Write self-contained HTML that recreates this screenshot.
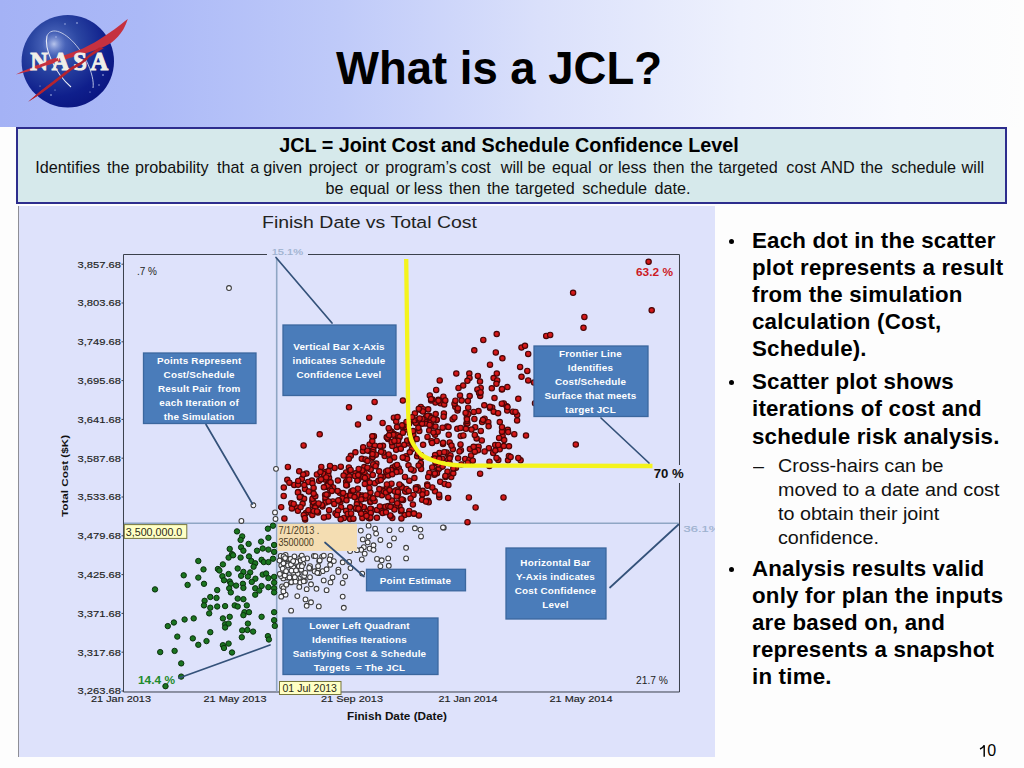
<!DOCTYPE html>
<html>
<head>
<meta charset="utf-8">
<title>What is a JCL?</title>
<style>
html,body{margin:0;padding:0;}
body{width:1024px;height:768px;overflow:hidden;background:#fdfdfd;font-family:"Liberation Sans",sans-serif;position:relative;color:#000;}
.abs{position:absolute;}
#hdr{left:0;top:0;width:1024px;height:127px;background:linear-gradient(90deg,#a4b2f5 0%,#abb9f7 13.7%,#bfcaf9 33.2%,#dae0fb 52.7%,#eef1fd 72.3%,#f9fafe 88%,#fdfdfd 100%);}
#title{left:0;top:41px;width:998px;text-align:center;font-weight:bold;font-size:45.5px;line-height:56px;white-space:nowrap;}
#box{left:16px;top:127.1px;width:987.3px;height:73.1px;border:2.8px solid #2d2d8d;background:#d6e9eb;}
#boxt{left:0;top:133px;width:1018px;text-align:center;font-weight:bold;font-size:19.8px;line-height:24px;white-space:nowrap;}
.bl{font-size:16.2px;line-height:20px;white-space:nowrap;color:#111;}
#chartbg{left:17.6px;top:205.8px;width:696.4px;height:551.7px;background:#dee2fb;border-left:1.3px solid #8e8e96;}
.b1{font-weight:bold;font-size:22.3px;line-height:27px;white-space:nowrap;left:752px;letter-spacing:0.2px;margin-top:0.7px;}
.b2{font-size:17.7px;line-height:24px;white-space:nowrap;left:778px;color:#111;transform:scaleX(1.115);transform-origin:0 0;margin-top:0.6px;}
.dot{left:728.6px;width:5.2px;height:5.2px;border-radius:50%;background:#000;margin-top:12.5px;}
svg text{font-family:"Liberation Sans",sans-serif;}
</style>
</head>
<body>
<div id="hdr" class="abs"></div>
<div id="title" class="abs">What is a JCL?</div>

<!-- NASA logo -->
<svg class="abs" style="left:0;top:0" width="140" height="125" viewBox="0 0 140 125">
  <defs>
    <radialGradient id="ng" cx="0.36" cy="0.32" r="0.75">
      <stop offset="0" stop-color="#5d78c8"/>
      <stop offset="0.35" stop-color="#2b46a2"/>
      <stop offset="0.75" stop-color="#0f1f8c"/>
      <stop offset="1" stop-color="#0a1580"/>
    </radialGradient>
    <radialGradient id="glow" cx="0.5" cy="0.5" r="0.5">
      <stop offset="0" stop-color="#c9d3f3" stop-opacity="0.85"/>
      <stop offset="1" stop-color="#7088d0" stop-opacity="0"/>
    </radialGradient>
  </defs>
  <circle cx="67.8" cy="61.2" r="46.2" fill="url(#ng)"/>
  <circle cx="54" cy="44" r="12" fill="url(#glow)"/>
  <g fill="#b9c6f0">
    <circle cx="65" cy="24" r="0.7"/><circle cx="77" cy="23" r="0.8"/><circle cx="56" cy="37" r="0.7"/>
    <circle cx="103" cy="75" r="0.8"/><circle cx="99" cy="85" r="0.7"/><circle cx="51" cy="95" r="0.8"/>
    <circle cx="40" cy="86" r="0.6"/><circle cx="90" cy="92" r="0.6"/><circle cx="55" cy="90" r="0.6"/>
  </g>
  <path d="M47,36 C52,24 72,34 86,60 C92,72 94,82 93,88" fill="none" stroke="#c9d0ea" stroke-width="0.9"/>
  <path d="M47,36 C44,48 54,72 71,87" fill="none" stroke="#e8ebf7" stroke-width="1.1"/>
  <!-- swoosh -->
  <path d="M15.9,74.5 C22,71.500 27,69.500 32.100,67.300 L49,60.100 L67.300,54.300 L82.900,48.400 C88,46 93,43.500 98.500,40 C104,36.500 109,33 114.200,29.500 C119,26 124,22 127.800,19.100 C126.500,23 125,26.500 123.300,29.500 C120,35 116,39 111.600,42.500 C107,45.500 103,47.500 98.500,49 L82.900,54.300 L67.300,58.800 L49,64.700 L32,70.500 Z" fill="#c5313f"/>
  <path d="M28.200,101.800 L40,91.500 L53,81.500 L71.200,67.200 L81,61.800 L89.400,54.300 L99,47.500 L104,48 L89.400,57.300 L81,64.800 L71.200,70.200 L53,84.500 L40,94.200 Z" fill="#b32430"/>
  <text x="69.300" y="69.800" text-anchor="middle" style="font-family:'Liberation Serif',serif" font-weight="bold" font-size="24.5" fill="#f1efe8" stroke="#f1efe8" stroke-width="1.0" textLength="78" lengthAdjust="spacing">NASA</text>
  <path d="M28.200,101.800 L40,91.500 L53,81.500 L71.200,67.200 L81,61.800 L86,57.500 L88,59 L81,64.800 L71.200,70.200 L53,84.500 L40,94.200 Z" fill="#b32430"/>
  <path d="M40,64.500 L49,61 L58,58 L58,60.800 L49,64.200 L40,67.500 Z" fill="#c5313f"/>
</svg>

<div id="box" class="abs"></div>
<div id="boxt" class="abs">JCL = Joint Cost and Schedule Confidence Level</div>
<div class="abs bl" style="left:35.3px;top:157px">Identifies</div>
<div class="abs bl" style="left:107.1px;top:157px">the</div>
<div class="abs bl" style="left:134.9px;top:157px">probability</div>
<div class="abs bl" style="left:217.0px;top:157px">that</div>
<div class="abs bl" style="left:250.2px;top:157px">a</div>
<div class="abs bl" style="left:263.2px;top:157px">given</div>
<div class="abs bl" style="left:308.7px;top:157px">project</div>
<div class="abs bl" style="left:364.9px;top:157px">or</div>
<div class="abs bl" style="left:385.2px;top:157px">program’s</div>
<div class="abs bl" style="left:461.1px;top:157px">cost</div>
<div class="abs bl" style="left:500.7px;top:157px">will</div>
<div class="abs bl" style="left:527.5px;top:157px">be</div>
<div class="abs bl" style="left:551.9px;top:157px">equal</div>
<div class="abs bl" style="left:598.8px;top:157px">or</div>
<div class="abs bl" style="left:617.9px;top:157px">less</div>
<div class="abs bl" style="left:653.0px;top:157px">then</div>
<div class="abs bl" style="left:690.6px;top:157px">the</div>
<div class="abs bl" style="left:718.4px;top:157px">targeted</div>
<div class="abs bl" style="left:786.3px;top:157px">cost</div>
<div class="abs bl" style="left:820.5px;top:157px">AND</div>
<div class="abs bl" style="left:860.5px;top:157px">the</div>
<div class="abs bl" style="left:891.3px;top:157px">schedule</div>
<div class="abs bl" style="left:961.6px;top:157px">will</div>
<div class="abs bl" style="left:325.4px;top:177.6px">be</div>
<div class="abs bl" style="left:349.8px;top:177.6px">equal</div>
<div class="abs bl" style="left:395.7px;top:177.6px">or</div>
<div class="abs bl" style="left:413.7px;top:177.6px">less</div>
<div class="abs bl" style="left:448.9px;top:177.6px">then</div>
<div class="abs bl" style="left:487.0px;top:177.6px">the</div>
<div class="abs bl" style="left:515.3px;top:177.6px">targeted</div>
<div class="abs bl" style="left:582.2px;top:177.6px">schedule</div>
<div class="abs bl" style="left:654.5px;top:177.6px">date.</div>

<div id="chartbg" class="abs"></div>

<svg class="abs" style="left:0;top:200px" width="715.3" height="568" viewBox="0 200 715.3 568">
  <!-- plot frame -->
  <g stroke="#3a3f4a" stroke-width="1" fill="none">
    <path d="M123.5,254.5 H267 M308,254.5 H679.5 V692 H123.5 V254.5"/>
  </g>
  <path d="M121.5,264.2 H123.5 M121.5,303.0 H123.5 M121.5,341.8 H123.5 M121.5,380.6 H123.5 M121.5,419.4 H123.5 M121.5,458.2 H123.5 M121.5,497.0 H123.5 M121.5,535.8 H123.5 M121.5,574.6 H123.5 M121.5,613.4 H123.5 M121.5,652.2 H123.5 M121.5,691.0 H123.5 " stroke="#3a3f4a" stroke-width="1" fill="none"/>
  <!-- crosshair -->
  <path d="M276.700,258 V691.500 M124,523.200 H678.500" stroke="#8fa6c4" stroke-width="1.6" fill="none"/>
  <text x="262" y="228" font-size="16.5" fill="#222" textLength="215" lengthAdjust="spacingAndGlyphs">Finish Date vs Total Cost</text>
  <g font-size="9.4" fill="#222" stroke="#222" stroke-width="0.15" text-anchor="end">
    <text x="121" y="267.6" textLength="43.5" lengthAdjust="spacingAndGlyphs">3,857.68</text>
    <text x="121" y="306.4" textLength="43.5" lengthAdjust="spacingAndGlyphs">3,803.68</text>
    <text x="121" y="345.2" textLength="43.5" lengthAdjust="spacingAndGlyphs">3,749.68</text>
    <text x="121" y="384.0" textLength="43.5" lengthAdjust="spacingAndGlyphs">3,695.68</text>
    <text x="121" y="422.8" textLength="43.5" lengthAdjust="spacingAndGlyphs">3,641.68</text>
    <text x="121" y="461.6" textLength="43.5" lengthAdjust="spacingAndGlyphs">3,587.68</text>
    <text x="121" y="500.4" textLength="43.5" lengthAdjust="spacingAndGlyphs">3,533.68</text>
    <text x="121" y="539.2" textLength="43.5" lengthAdjust="spacingAndGlyphs">3,479.68</text>
    <text x="121" y="578.0" textLength="43.5" lengthAdjust="spacingAndGlyphs">3,425.68</text>
    <text x="121" y="616.8" textLength="43.5" lengthAdjust="spacingAndGlyphs">3,371.68</text>
    <text x="121" y="655.6" textLength="43.5" lengthAdjust="spacingAndGlyphs">3,317.68</text>
    <text x="121" y="694.4" textLength="43.5" lengthAdjust="spacingAndGlyphs">3,263.68</text>
  </g>
  <g font-size="9.4" fill="#222" stroke="#222" stroke-width="0.15" text-anchor="middle">
    <text x="121" y="702.400" textLength="60" lengthAdjust="spacingAndGlyphs">21 Jan 2013</text>
    <text x="235" y="702.400" textLength="63" lengthAdjust="spacingAndGlyphs">21 May 2013</text>
    <text x="352" y="702.400" textLength="62" lengthAdjust="spacingAndGlyphs">21 Sep 2013</text>
    <text x="468" y="702.400" textLength="59" lengthAdjust="spacingAndGlyphs">21 Jan 2014</text>
    <text x="581" y="702.400" textLength="63" lengthAdjust="spacingAndGlyphs">21 May 2014</text>
  </g>
  <text x="397" y="720" font-size="10.5" font-weight="bold" text-anchor="middle" fill="#111" textLength="100" lengthAdjust="spacingAndGlyphs">Finish Date (Date)</text>
  <text transform="translate(68.3,476) rotate(-90)" font-size="9.8" font-weight="bold" text-anchor="middle" fill="#111" textLength="82" lengthAdjust="spacingAndGlyphs">Total Cost ($K)</text>

<defs><radialGradient id="rg" cx="0.45" cy="0.4" r="0.6"><stop offset="0" stop-color="#e01c1c"/><stop offset="1" stop-color="#b40f12"/></radialGradient></defs>
<circle cx="360.8" cy="530.6" r="2.4" fill="#fafaff" stroke="#3c3c3c" stroke-width="1.05"/>
<circle cx="368.6" cy="525.7" r="2.4" fill="#fafaff" stroke="#3c3c3c" stroke-width="1.05"/>
<circle cx="375.1" cy="528.7" r="2.4" fill="#fafaff" stroke="#3c3c3c" stroke-width="1.05"/>
<circle cx="376.1" cy="533.6" r="2.4" fill="#fafaff" stroke="#3c3c3c" stroke-width="1.05"/>
<circle cx="368.6" cy="536.5" r="2.4" fill="#fafaff" stroke="#3c3c3c" stroke-width="1.05"/>
<circle cx="362.8" cy="539.4" r="2.4" fill="#fafaff" stroke="#3c3c3c" stroke-width="1.05"/>
<circle cx="367.7" cy="542.3" r="2.4" fill="#fafaff" stroke="#3c3c3c" stroke-width="1.05"/>
<circle cx="373.5" cy="545.3" r="2.4" fill="#fafaff" stroke="#3c3c3c" stroke-width="1.05"/>
<circle cx="363.8" cy="547.2" r="2.4" fill="#fafaff" stroke="#3c3c3c" stroke-width="1.05"/>
<circle cx="369.6" cy="548.6" r="2.4" fill="#fafaff" stroke="#3c3c3c" stroke-width="1.05"/>
<circle cx="373.5" cy="549.8" r="2.4" fill="#fafaff" stroke="#3c3c3c" stroke-width="1.05"/>
<circle cx="361.2" cy="549.8" r="2.4" fill="#fafaff" stroke="#3c3c3c" stroke-width="1.05"/>
<circle cx="389.5" cy="530.2" r="2.4" fill="#fafaff" stroke="#3c3c3c" stroke-width="1.05"/>
<circle cx="401.2" cy="529.6" r="2.4" fill="#fafaff" stroke="#3c3c3c" stroke-width="1.05"/>
<circle cx="414.9" cy="528.3" r="2.4" fill="#fafaff" stroke="#3c3c3c" stroke-width="1.05"/>
<circle cx="420.4" cy="529.6" r="2.4" fill="#fafaff" stroke="#3c3c3c" stroke-width="1.05"/>
<circle cx="443.8" cy="527.7" r="2.4" fill="#fafaff" stroke="#3c3c3c" stroke-width="1.05"/>
<circle cx="421.0" cy="536.5" r="2.4" fill="#fafaff" stroke="#3c3c3c" stroke-width="1.05"/>
<circle cx="394.0" cy="538.4" r="2.4" fill="#fafaff" stroke="#3c3c3c" stroke-width="1.05"/>
<circle cx="380.4" cy="540.0" r="2.4" fill="#fafaff" stroke="#3c3c3c" stroke-width="1.05"/>
<circle cx="389.5" cy="545.3" r="2.4" fill="#fafaff" stroke="#3c3c3c" stroke-width="1.05"/>
<circle cx="406.1" cy="547.8" r="2.4" fill="#fafaff" stroke="#3c3c3c" stroke-width="1.05"/>
<circle cx="406.1" cy="558.4" r="2.4" fill="#fafaff" stroke="#3c3c3c" stroke-width="1.05"/>
<circle cx="364.7" cy="553.7" r="2.4" fill="#fafaff" stroke="#3c3c3c" stroke-width="1.05"/>
<circle cx="361.8" cy="559.5" r="2.4" fill="#fafaff" stroke="#3c3c3c" stroke-width="1.05"/>
<circle cx="377.0" cy="558.9" r="2.4" fill="#fafaff" stroke="#3c3c3c" stroke-width="1.05"/>
<circle cx="381.7" cy="560.3" r="2.4" fill="#fafaff" stroke="#3c3c3c" stroke-width="1.05"/>
<circle cx="388.2" cy="558.4" r="2.4" fill="#fafaff" stroke="#3c3c3c" stroke-width="1.05"/>
<circle cx="380.4" cy="566.2" r="2.4" fill="#fafaff" stroke="#3c3c3c" stroke-width="1.05"/>
<circle cx="388.8" cy="565.8" r="2.4" fill="#fafaff" stroke="#3c3c3c" stroke-width="1.05"/>
<circle cx="349.1" cy="561.9" r="2.4" fill="#fafaff" stroke="#3c3c3c" stroke-width="1.05"/>
<circle cx="342.7" cy="562.3" r="2.4" fill="#fafaff" stroke="#3c3c3c" stroke-width="1.05"/>
<circle cx="350.5" cy="568.1" r="2.4" fill="#fafaff" stroke="#3c3c3c" stroke-width="1.05"/>
<circle cx="362.2" cy="573.6" r="2.4" fill="#fafaff" stroke="#3c3c3c" stroke-width="1.05"/>
<circle cx="356.9" cy="550.2" r="2.4" fill="#fafaff" stroke="#3c3c3c" stroke-width="1.05"/>
<circle cx="350.1" cy="551.1" r="2.4" fill="#fafaff" stroke="#3c3c3c" stroke-width="1.05"/>
<circle cx="280.7" cy="556.0" r="2.4" fill="#fafaff" stroke="#3c3c3c" stroke-width="1.05"/>
<circle cx="285.6" cy="555.0" r="2.4" fill="#fafaff" stroke="#3c3c3c" stroke-width="1.05"/>
<circle cx="288.6" cy="559.9" r="2.4" fill="#fafaff" stroke="#3c3c3c" stroke-width="1.05"/>
<circle cx="294.4" cy="556.4" r="2.4" fill="#fafaff" stroke="#3c3c3c" stroke-width="1.05"/>
<circle cx="300.3" cy="557.6" r="2.4" fill="#fafaff" stroke="#3c3c3c" stroke-width="1.05"/>
<circle cx="307.1" cy="558.4" r="2.4" fill="#fafaff" stroke="#3c3c3c" stroke-width="1.05"/>
<circle cx="313.9" cy="556.0" r="2.4" fill="#fafaff" stroke="#3c3c3c" stroke-width="1.05"/>
<circle cx="319.2" cy="560.9" r="2.4" fill="#fafaff" stroke="#3c3c3c" stroke-width="1.05"/>
<circle cx="330.5" cy="556.0" r="2.4" fill="#fafaff" stroke="#3c3c3c" stroke-width="1.05"/>
<circle cx="329.6" cy="559.5" r="2.4" fill="#fafaff" stroke="#3c3c3c" stroke-width="1.05"/>
<circle cx="281.3" cy="565.4" r="2.4" fill="#fafaff" stroke="#3c3c3c" stroke-width="1.05"/>
<circle cx="288.6" cy="564.8" r="2.4" fill="#fafaff" stroke="#3c3c3c" stroke-width="1.05"/>
<circle cx="293.4" cy="567.3" r="2.4" fill="#fafaff" stroke="#3c3c3c" stroke-width="1.05"/>
<circle cx="298.9" cy="566.2" r="2.4" fill="#fafaff" stroke="#3c3c3c" stroke-width="1.05"/>
<circle cx="303.2" cy="563.8" r="2.4" fill="#fafaff" stroke="#3c3c3c" stroke-width="1.05"/>
<circle cx="310.0" cy="566.2" r="2.4" fill="#fafaff" stroke="#3c3c3c" stroke-width="1.05"/>
<circle cx="310.0" cy="568.7" r="2.4" fill="#fafaff" stroke="#3c3c3c" stroke-width="1.05"/>
<circle cx="330.2" cy="564.8" r="2.4" fill="#fafaff" stroke="#3c3c3c" stroke-width="1.05"/>
<circle cx="317.9" cy="570.1" r="2.4" fill="#fafaff" stroke="#3c3c3c" stroke-width="1.05"/>
<circle cx="322.7" cy="571.2" r="2.4" fill="#fafaff" stroke="#3c3c3c" stroke-width="1.05"/>
<circle cx="326.6" cy="569.3" r="2.4" fill="#fafaff" stroke="#3c3c3c" stroke-width="1.05"/>
<circle cx="318.8" cy="573.2" r="2.4" fill="#fafaff" stroke="#3c3c3c" stroke-width="1.05"/>
<circle cx="338.4" cy="569.7" r="2.4" fill="#fafaff" stroke="#3c3c3c" stroke-width="1.05"/>
<circle cx="338.4" cy="572.0" r="2.4" fill="#fafaff" stroke="#3c3c3c" stroke-width="1.05"/>
<circle cx="285.2" cy="572.6" r="2.4" fill="#fafaff" stroke="#3c3c3c" stroke-width="1.05"/>
<circle cx="293.4" cy="573.6" r="2.4" fill="#fafaff" stroke="#3c3c3c" stroke-width="1.05"/>
<circle cx="298.9" cy="572.6" r="2.4" fill="#fafaff" stroke="#3c3c3c" stroke-width="1.05"/>
<circle cx="287.2" cy="577.5" r="2.4" fill="#fafaff" stroke="#3c3c3c" stroke-width="1.05"/>
<circle cx="293.0" cy="577.1" r="2.4" fill="#fafaff" stroke="#3c3c3c" stroke-width="1.05"/>
<circle cx="298.9" cy="578.5" r="2.4" fill="#fafaff" stroke="#3c3c3c" stroke-width="1.05"/>
<circle cx="304.2" cy="575.9" r="2.4" fill="#fafaff" stroke="#3c3c3c" stroke-width="1.05"/>
<circle cx="304.8" cy="581.0" r="2.4" fill="#fafaff" stroke="#3c3c3c" stroke-width="1.05"/>
<circle cx="291.1" cy="582.4" r="2.4" fill="#fafaff" stroke="#3c3c3c" stroke-width="1.05"/>
<circle cx="311.0" cy="584.3" r="2.4" fill="#fafaff" stroke="#3c3c3c" stroke-width="1.05"/>
<circle cx="332.5" cy="577.5" r="2.4" fill="#fafaff" stroke="#3c3c3c" stroke-width="1.05"/>
<circle cx="330.5" cy="582.4" r="2.4" fill="#fafaff" stroke="#3c3c3c" stroke-width="1.05"/>
<circle cx="323.7" cy="580.4" r="2.4" fill="#fafaff" stroke="#3c3c3c" stroke-width="1.05"/>
<circle cx="345.2" cy="576.5" r="2.4" fill="#fafaff" stroke="#3c3c3c" stroke-width="1.05"/>
<circle cx="342.7" cy="583.0" r="2.4" fill="#fafaff" stroke="#3c3c3c" stroke-width="1.05"/>
<circle cx="299.3" cy="586.9" r="2.4" fill="#fafaff" stroke="#3c3c3c" stroke-width="1.05"/>
<circle cx="306.7" cy="589.2" r="2.4" fill="#fafaff" stroke="#3c3c3c" stroke-width="1.05"/>
<circle cx="316.5" cy="588.8" r="2.4" fill="#fafaff" stroke="#3c3c3c" stroke-width="1.05"/>
<circle cx="326.6" cy="590.2" r="2.4" fill="#fafaff" stroke="#3c3c3c" stroke-width="1.05"/>
<circle cx="285.6" cy="594.7" r="2.4" fill="#fafaff" stroke="#3c3c3c" stroke-width="1.05"/>
<circle cx="297.3" cy="596.1" r="2.4" fill="#fafaff" stroke="#3c3c3c" stroke-width="1.05"/>
<circle cx="305.5" cy="599.4" r="2.4" fill="#fafaff" stroke="#3c3c3c" stroke-width="1.05"/>
<circle cx="311.0" cy="602.3" r="2.4" fill="#fafaff" stroke="#3c3c3c" stroke-width="1.05"/>
<circle cx="306.7" cy="605.8" r="2.4" fill="#fafaff" stroke="#3c3c3c" stroke-width="1.05"/>
<circle cx="318.8" cy="606.4" r="2.4" fill="#fafaff" stroke="#3c3c3c" stroke-width="1.05"/>
<circle cx="342.7" cy="596.6" r="2.4" fill="#fafaff" stroke="#3c3c3c" stroke-width="1.05"/>
<circle cx="343.8" cy="607.8" r="2.4" fill="#fafaff" stroke="#3c3c3c" stroke-width="1.05"/>
<circle cx="291.1" cy="610.7" r="2.4" fill="#fafaff" stroke="#3c3c3c" stroke-width="1.05"/>
<circle cx="283.7" cy="561.9" r="2.4" fill="#fafaff" stroke="#3c3c3c" stroke-width="1.05"/>
<circle cx="296.4" cy="561.9" r="2.4" fill="#fafaff" stroke="#3c3c3c" stroke-width="1.05"/>
<circle cx="291.5" cy="570.7" r="2.4" fill="#fafaff" stroke="#3c3c3c" stroke-width="1.05"/>
<circle cx="301.2" cy="569.7" r="2.4" fill="#fafaff" stroke="#3c3c3c" stroke-width="1.05"/>
<circle cx="296.4" cy="579.5" r="2.4" fill="#fafaff" stroke="#3c3c3c" stroke-width="1.05"/>
<circle cx="282.7" cy="568.7" r="2.4" fill="#fafaff" stroke="#3c3c3c" stroke-width="1.05"/>
<circle cx="300.7" cy="560.5" r="2.4" fill="#fafaff" stroke="#3c3c3c" stroke-width="1.05"/>
<circle cx="322.1" cy="556.6" r="2.4" fill="#fafaff" stroke="#3c3c3c" stroke-width="1.05"/>
<circle cx="314.6" cy="571.3" r="2.4" fill="#fafaff" stroke="#3c3c3c" stroke-width="1.05"/>
<circle cx="283.3" cy="578.4" r="2.4" fill="#fafaff" stroke="#3c3c3c" stroke-width="1.05"/>
<circle cx="282.0" cy="574.7" r="2.4" fill="#fafaff" stroke="#3c3c3c" stroke-width="1.05"/>
<circle cx="284.1" cy="557.5" r="2.4" fill="#fafaff" stroke="#3c3c3c" stroke-width="1.05"/>
<circle cx="287.6" cy="564.2" r="2.4" fill="#fafaff" stroke="#3c3c3c" stroke-width="1.05"/>
<circle cx="317.3" cy="572.8" r="2.4" fill="#fafaff" stroke="#3c3c3c" stroke-width="1.05"/>
<circle cx="288.9" cy="558.9" r="2.4" fill="#fafaff" stroke="#3c3c3c" stroke-width="1.05"/>
<circle cx="291.3" cy="582.1" r="2.4" fill="#fafaff" stroke="#3c3c3c" stroke-width="1.05"/>
<circle cx="315.4" cy="556.1" r="2.4" fill="#fafaff" stroke="#3c3c3c" stroke-width="1.05"/>
<circle cx="283.4" cy="563.3" r="2.4" fill="#fafaff" stroke="#3c3c3c" stroke-width="1.05"/>
<circle cx="300.1" cy="582.3" r="2.4" fill="#fafaff" stroke="#3c3c3c" stroke-width="1.05"/>
<circle cx="309.2" cy="568.0" r="2.4" fill="#fafaff" stroke="#3c3c3c" stroke-width="1.05"/>
<circle cx="295.5" cy="581.7" r="2.4" fill="#fafaff" stroke="#3c3c3c" stroke-width="1.05"/>
<circle cx="289.5" cy="577.4" r="2.4" fill="#fafaff" stroke="#3c3c3c" stroke-width="1.05"/>
<circle cx="282.1" cy="586.4" r="2.4" fill="#fafaff" stroke="#3c3c3c" stroke-width="1.05"/>
<circle cx="283.5" cy="588.1" r="2.4" fill="#fafaff" stroke="#3c3c3c" stroke-width="1.05"/>
<circle cx="281.0" cy="576.1" r="2.4" fill="#fafaff" stroke="#3c3c3c" stroke-width="1.05"/>
<circle cx="290.5" cy="558.9" r="2.4" fill="#fafaff" stroke="#3c3c3c" stroke-width="1.05"/>
<circle cx="283.4" cy="591.4" r="2.4" fill="#fafaff" stroke="#3c3c3c" stroke-width="1.05"/>
<circle cx="288.0" cy="565.4" r="2.4" fill="#fafaff" stroke="#3c3c3c" stroke-width="1.05"/>
<circle cx="284.8" cy="575.5" r="2.4" fill="#fafaff" stroke="#3c3c3c" stroke-width="1.05"/>
<circle cx="297.7" cy="573.8" r="2.4" fill="#fafaff" stroke="#3c3c3c" stroke-width="1.05"/>
<circle cx="291.0" cy="564.6" r="2.4" fill="#fafaff" stroke="#3c3c3c" stroke-width="1.05"/>
<circle cx="294.8" cy="577.2" r="2.4" fill="#fafaff" stroke="#3c3c3c" stroke-width="1.05"/>
<circle cx="318.1" cy="566.1" r="2.4" fill="#fafaff" stroke="#3c3c3c" stroke-width="1.05"/>
<circle cx="279.8" cy="573.9" r="2.4" fill="#fafaff" stroke="#3c3c3c" stroke-width="1.05"/>
<circle cx="303.7" cy="581.3" r="2.4" fill="#fafaff" stroke="#3c3c3c" stroke-width="1.05"/>
<circle cx="323.8" cy="555.7" r="2.4" fill="#fafaff" stroke="#3c3c3c" stroke-width="1.05"/>
<circle cx="305.2" cy="572.9" r="2.4" fill="#fafaff" stroke="#3c3c3c" stroke-width="1.05"/>
<circle cx="286.3" cy="584.7" r="2.4" fill="#fafaff" stroke="#3c3c3c" stroke-width="1.05"/>
<circle cx="283.6" cy="556.4" r="2.4" fill="#fafaff" stroke="#3c3c3c" stroke-width="1.05"/>
<circle cx="293.2" cy="561.1" r="2.4" fill="#fafaff" stroke="#3c3c3c" stroke-width="1.05"/>
<circle cx="301.8" cy="555.6" r="2.4" fill="#fafaff" stroke="#3c3c3c" stroke-width="1.05"/>
<circle cx="279.5" cy="560.6" r="2.4" fill="#fafaff" stroke="#3c3c3c" stroke-width="1.05"/>
<circle cx="286.1" cy="571.2" r="2.4" fill="#fafaff" stroke="#3c3c3c" stroke-width="1.05"/>
<circle cx="281.2" cy="596.7" r="2.4" fill="#fafaff" stroke="#3c3c3c" stroke-width="1.05"/>
<circle cx="319.7" cy="560.4" r="2.4" fill="#fafaff" stroke="#3c3c3c" stroke-width="1.05"/>
<circle cx="296.0" cy="570.4" r="2.4" fill="#fafaff" stroke="#3c3c3c" stroke-width="1.05"/>
<circle cx="303.4" cy="559.1" r="2.4" fill="#fafaff" stroke="#3c3c3c" stroke-width="1.05"/>
<circle cx="310.0" cy="577.2" r="2.4" fill="#fafaff" stroke="#3c3c3c" stroke-width="1.05"/>
<circle cx="285.1" cy="558.1" r="2.4" fill="#fafaff" stroke="#3c3c3c" stroke-width="1.05"/>
<circle cx="301.9" cy="566.2" r="2.4" fill="#fafaff" stroke="#3c3c3c" stroke-width="1.05"/>
<circle cx="333.8" cy="561.1" r="2.4" fill="#fafaff" stroke="#3c3c3c" stroke-width="1.05"/>
<circle cx="229.0" cy="288.0" r="2.4" fill="#fafaff" stroke="#3c3c3c" stroke-width="1.05"/>
<circle cx="253.4" cy="505.3" r="2.4" fill="#fafaff" stroke="#3c3c3c" stroke-width="1.05"/>
<circle cx="276.0" cy="468.8" r="2.4" fill="#fafaff" stroke="#3c3c3c" stroke-width="1.05"/>
<circle cx="241.4" cy="521.0" r="2.4" fill="#fafaff" stroke="#3c3c3c" stroke-width="1.05"/>
<circle cx="275.0" cy="512.5" r="2.4" fill="#fafaff" stroke="#3c3c3c" stroke-width="1.05"/>
<circle cx="275.5" cy="519.0" r="2.4" fill="#fafaff" stroke="#3c3c3c" stroke-width="1.05"/>
<circle cx="443.0" cy="527.5" r="2.4" fill="#fafaff" stroke="#3c3c3c" stroke-width="1.05"/>
<circle cx="237.0" cy="531.4" r="2.7" fill="#1a7420" stroke="#0a300d" stroke-width="1"/>
<circle cx="267.9" cy="528.7" r="2.7" fill="#1a7420" stroke="#0a300d" stroke-width="1"/>
<circle cx="273.0" cy="525.7" r="2.7" fill="#1a7420" stroke="#0a300d" stroke-width="1"/>
<circle cx="242.2" cy="536.4" r="2.7" fill="#1a7420" stroke="#0a300d" stroke-width="1"/>
<circle cx="240.6" cy="540.0" r="2.7" fill="#1a7420" stroke="#0a300d" stroke-width="1"/>
<circle cx="268.4" cy="537.8" r="2.7" fill="#1a7420" stroke="#0a300d" stroke-width="1"/>
<circle cx="248.6" cy="543.9" r="2.7" fill="#1a7420" stroke="#0a300d" stroke-width="1"/>
<circle cx="261.1" cy="541.6" r="2.7" fill="#1a7420" stroke="#0a300d" stroke-width="1"/>
<circle cx="229.7" cy="548.9" r="2.7" fill="#1a7420" stroke="#0a300d" stroke-width="1"/>
<circle cx="241.1" cy="547.3" r="2.7" fill="#1a7420" stroke="#0a300d" stroke-width="1"/>
<circle cx="243.4" cy="550.7" r="2.7" fill="#1a7420" stroke="#0a300d" stroke-width="1"/>
<circle cx="257.0" cy="550.7" r="2.7" fill="#1a7420" stroke="#0a300d" stroke-width="1"/>
<circle cx="262.7" cy="548.5" r="2.7" fill="#1a7420" stroke="#0a300d" stroke-width="1"/>
<circle cx="268.4" cy="549.6" r="2.7" fill="#1a7420" stroke="#0a300d" stroke-width="1"/>
<circle cx="274.1" cy="545.0" r="2.7" fill="#1a7420" stroke="#0a300d" stroke-width="1"/>
<circle cx="232.0" cy="554.2" r="2.7" fill="#1a7420" stroke="#0a300d" stroke-width="1"/>
<circle cx="228.6" cy="557.6" r="2.7" fill="#1a7420" stroke="#0a300d" stroke-width="1"/>
<circle cx="233.1" cy="555.3" r="2.7" fill="#1a7420" stroke="#0a300d" stroke-width="1"/>
<circle cx="240.6" cy="557.6" r="2.7" fill="#1a7420" stroke="#0a300d" stroke-width="1"/>
<circle cx="249.0" cy="556.4" r="2.7" fill="#1a7420" stroke="#0a300d" stroke-width="1"/>
<circle cx="251.3" cy="561.0" r="2.7" fill="#1a7420" stroke="#0a300d" stroke-width="1"/>
<circle cx="255.2" cy="563.3" r="2.7" fill="#1a7420" stroke="#0a300d" stroke-width="1"/>
<circle cx="253.6" cy="566.7" r="2.7" fill="#1a7420" stroke="#0a300d" stroke-width="1"/>
<circle cx="261.6" cy="559.8" r="2.7" fill="#1a7420" stroke="#0a300d" stroke-width="1"/>
<circle cx="263.8" cy="562.1" r="2.7" fill="#1a7420" stroke="#0a300d" stroke-width="1"/>
<circle cx="268.4" cy="562.1" r="2.7" fill="#1a7420" stroke="#0a300d" stroke-width="1"/>
<circle cx="273.0" cy="558.7" r="2.7" fill="#1a7420" stroke="#0a300d" stroke-width="1"/>
<circle cx="274.1" cy="551.9" r="2.7" fill="#1a7420" stroke="#0a300d" stroke-width="1"/>
<circle cx="198.3" cy="561.0" r="2.7" fill="#1a7420" stroke="#0a300d" stroke-width="1"/>
<circle cx="203.5" cy="569.4" r="2.7" fill="#1a7420" stroke="#0a300d" stroke-width="1"/>
<circle cx="222.9" cy="564.4" r="2.7" fill="#1a7420" stroke="#0a300d" stroke-width="1"/>
<circle cx="217.9" cy="569.0" r="2.7" fill="#1a7420" stroke="#0a300d" stroke-width="1"/>
<circle cx="219.4" cy="570.5" r="2.7" fill="#1a7420" stroke="#0a300d" stroke-width="1"/>
<circle cx="237.7" cy="568.5" r="2.7" fill="#1a7420" stroke="#0a300d" stroke-width="1"/>
<circle cx="243.4" cy="571.9" r="2.7" fill="#1a7420" stroke="#0a300d" stroke-width="1"/>
<circle cx="250.2" cy="572.4" r="2.7" fill="#1a7420" stroke="#0a300d" stroke-width="1"/>
<circle cx="262.7" cy="574.6" r="2.7" fill="#1a7420" stroke="#0a300d" stroke-width="1"/>
<circle cx="266.1" cy="573.5" r="2.7" fill="#1a7420" stroke="#0a300d" stroke-width="1"/>
<circle cx="183.7" cy="575.3" r="2.7" fill="#1a7420" stroke="#0a300d" stroke-width="1"/>
<circle cx="198.3" cy="577.6" r="2.7" fill="#1a7420" stroke="#0a300d" stroke-width="1"/>
<circle cx="222.4" cy="576.2" r="2.7" fill="#1a7420" stroke="#0a300d" stroke-width="1"/>
<circle cx="228.6" cy="574.0" r="2.7" fill="#1a7420" stroke="#0a300d" stroke-width="1"/>
<circle cx="224.0" cy="580.3" r="2.7" fill="#1a7420" stroke="#0a300d" stroke-width="1"/>
<circle cx="229.7" cy="581.5" r="2.7" fill="#1a7420" stroke="#0a300d" stroke-width="1"/>
<circle cx="241.1" cy="575.8" r="2.7" fill="#1a7420" stroke="#0a300d" stroke-width="1"/>
<circle cx="247.9" cy="576.5" r="2.7" fill="#1a7420" stroke="#0a300d" stroke-width="1"/>
<circle cx="255.4" cy="578.7" r="2.7" fill="#1a7420" stroke="#0a300d" stroke-width="1"/>
<circle cx="251.8" cy="581.9" r="2.7" fill="#1a7420" stroke="#0a300d" stroke-width="1"/>
<circle cx="268.4" cy="578.1" r="2.7" fill="#1a7420" stroke="#0a300d" stroke-width="1"/>
<circle cx="274.1" cy="576.9" r="2.7" fill="#1a7420" stroke="#0a300d" stroke-width="1"/>
<circle cx="274.1" cy="582.6" r="2.7" fill="#1a7420" stroke="#0a300d" stroke-width="1"/>
<circle cx="187.6" cy="584.9" r="2.7" fill="#1a7420" stroke="#0a300d" stroke-width="1"/>
<circle cx="204.0" cy="583.8" r="2.7" fill="#1a7420" stroke="#0a300d" stroke-width="1"/>
<circle cx="230.8" cy="583.8" r="2.7" fill="#1a7420" stroke="#0a300d" stroke-width="1"/>
<circle cx="236.1" cy="585.6" r="2.7" fill="#1a7420" stroke="#0a300d" stroke-width="1"/>
<circle cx="242.9" cy="583.8" r="2.7" fill="#1a7420" stroke="#0a300d" stroke-width="1"/>
<circle cx="243.4" cy="587.9" r="2.7" fill="#1a7420" stroke="#0a300d" stroke-width="1"/>
<circle cx="229.2" cy="588.3" r="2.7" fill="#1a7420" stroke="#0a300d" stroke-width="1"/>
<circle cx="230.8" cy="592.4" r="2.7" fill="#1a7420" stroke="#0a300d" stroke-width="1"/>
<circle cx="255.2" cy="588.3" r="2.7" fill="#1a7420" stroke="#0a300d" stroke-width="1"/>
<circle cx="261.6" cy="586.0" r="2.7" fill="#1a7420" stroke="#0a300d" stroke-width="1"/>
<circle cx="268.4" cy="587.2" r="2.7" fill="#1a7420" stroke="#0a300d" stroke-width="1"/>
<circle cx="274.1" cy="588.3" r="2.7" fill="#1a7420" stroke="#0a300d" stroke-width="1"/>
<circle cx="259.3" cy="590.6" r="2.7" fill="#1a7420" stroke="#0a300d" stroke-width="1"/>
<circle cx="255.2" cy="594.7" r="2.7" fill="#1a7420" stroke="#0a300d" stroke-width="1"/>
<circle cx="274.1" cy="592.4" r="2.7" fill="#1a7420" stroke="#0a300d" stroke-width="1"/>
<circle cx="155.0" cy="589.4" r="2.7" fill="#1a7420" stroke="#0a300d" stroke-width="1"/>
<circle cx="217.2" cy="590.1" r="2.7" fill="#1a7420" stroke="#0a300d" stroke-width="1"/>
<circle cx="210.3" cy="597.0" r="2.7" fill="#1a7420" stroke="#0a300d" stroke-width="1"/>
<circle cx="216.5" cy="597.9" r="2.7" fill="#1a7420" stroke="#0a300d" stroke-width="1"/>
<circle cx="204.6" cy="600.8" r="2.7" fill="#1a7420" stroke="#0a300d" stroke-width="1"/>
<circle cx="237.7" cy="598.6" r="2.7" fill="#1a7420" stroke="#0a300d" stroke-width="1"/>
<circle cx="243.4" cy="599.2" r="2.7" fill="#1a7420" stroke="#0a300d" stroke-width="1"/>
<circle cx="204.0" cy="605.4" r="2.7" fill="#1a7420" stroke="#0a300d" stroke-width="1"/>
<circle cx="210.3" cy="607.7" r="2.7" fill="#1a7420" stroke="#0a300d" stroke-width="1"/>
<circle cx="217.2" cy="606.5" r="2.7" fill="#1a7420" stroke="#0a300d" stroke-width="1"/>
<circle cx="225.1" cy="606.1" r="2.7" fill="#1a7420" stroke="#0a300d" stroke-width="1"/>
<circle cx="234.7" cy="605.4" r="2.7" fill="#1a7420" stroke="#0a300d" stroke-width="1"/>
<circle cx="237.7" cy="606.5" r="2.7" fill="#1a7420" stroke="#0a300d" stroke-width="1"/>
<circle cx="246.8" cy="605.4" r="2.7" fill="#1a7420" stroke="#0a300d" stroke-width="1"/>
<circle cx="209.2" cy="613.4" r="2.7" fill="#1a7420" stroke="#0a300d" stroke-width="1"/>
<circle cx="244.5" cy="612.2" r="2.7" fill="#1a7420" stroke="#0a300d" stroke-width="1"/>
<circle cx="249.0" cy="612.2" r="2.7" fill="#1a7420" stroke="#0a300d" stroke-width="1"/>
<circle cx="243.4" cy="615.2" r="2.7" fill="#1a7420" stroke="#0a300d" stroke-width="1"/>
<circle cx="274.1" cy="612.2" r="2.7" fill="#1a7420" stroke="#0a300d" stroke-width="1"/>
<circle cx="222.9" cy="618.4" r="2.7" fill="#1a7420" stroke="#0a300d" stroke-width="1"/>
<circle cx="229.7" cy="616.8" r="2.7" fill="#1a7420" stroke="#0a300d" stroke-width="1"/>
<circle cx="261.6" cy="616.8" r="2.7" fill="#1a7420" stroke="#0a300d" stroke-width="1"/>
<circle cx="274.1" cy="620.2" r="2.7" fill="#1a7420" stroke="#0a300d" stroke-width="1"/>
<circle cx="193.7" cy="618.4" r="2.7" fill="#1a7420" stroke="#0a300d" stroke-width="1"/>
<circle cx="184.6" cy="619.5" r="2.7" fill="#1a7420" stroke="#0a300d" stroke-width="1"/>
<circle cx="173.9" cy="622.5" r="2.7" fill="#1a7420" stroke="#0a300d" stroke-width="1"/>
<circle cx="167.8" cy="626.1" r="2.7" fill="#1a7420" stroke="#0a300d" stroke-width="1"/>
<circle cx="225.1" cy="624.3" r="2.7" fill="#1a7420" stroke="#0a300d" stroke-width="1"/>
<circle cx="228.6" cy="623.6" r="2.7" fill="#1a7420" stroke="#0a300d" stroke-width="1"/>
<circle cx="225.1" cy="627.5" r="2.7" fill="#1a7420" stroke="#0a300d" stroke-width="1"/>
<circle cx="247.9" cy="623.6" r="2.7" fill="#1a7420" stroke="#0a300d" stroke-width="1"/>
<circle cx="274.8" cy="625.9" r="2.7" fill="#1a7420" stroke="#0a300d" stroke-width="1"/>
<circle cx="242.2" cy="630.4" r="2.7" fill="#1a7420" stroke="#0a300d" stroke-width="1"/>
<circle cx="247.4" cy="630.0" r="2.7" fill="#1a7420" stroke="#0a300d" stroke-width="1"/>
<circle cx="253.1" cy="631.6" r="2.7" fill="#1a7420" stroke="#0a300d" stroke-width="1"/>
<circle cx="210.3" cy="632.2" r="2.7" fill="#1a7420" stroke="#0a300d" stroke-width="1"/>
<circle cx="177.3" cy="636.6" r="2.7" fill="#1a7420" stroke="#0a300d" stroke-width="1"/>
<circle cx="192.8" cy="638.4" r="2.7" fill="#1a7420" stroke="#0a300d" stroke-width="1"/>
<circle cx="241.8" cy="637.3" r="2.7" fill="#1a7420" stroke="#0a300d" stroke-width="1"/>
<circle cx="267.9" cy="636.1" r="2.7" fill="#1a7420" stroke="#0a300d" stroke-width="1"/>
<circle cx="268.9" cy="639.5" r="2.7" fill="#1a7420" stroke="#0a300d" stroke-width="1"/>
<circle cx="206.5" cy="641.1" r="2.7" fill="#1a7420" stroke="#0a300d" stroke-width="1"/>
<circle cx="198.3" cy="644.8" r="2.7" fill="#1a7420" stroke="#0a300d" stroke-width="1"/>
<circle cx="228.6" cy="643.6" r="2.7" fill="#1a7420" stroke="#0a300d" stroke-width="1"/>
<circle cx="222.9" cy="645.2" r="2.7" fill="#1a7420" stroke="#0a300d" stroke-width="1"/>
<circle cx="224.0" cy="648.0" r="2.7" fill="#1a7420" stroke="#0a300d" stroke-width="1"/>
<circle cx="160.2" cy="652.1" r="2.7" fill="#1a7420" stroke="#0a300d" stroke-width="1"/>
<circle cx="174.6" cy="650.9" r="2.7" fill="#1a7420" stroke="#0a300d" stroke-width="1"/>
<circle cx="232.0" cy="652.5" r="2.7" fill="#1a7420" stroke="#0a300d" stroke-width="1"/>
<circle cx="181.2" cy="663.4" r="2.7" fill="#1a7420" stroke="#0a300d" stroke-width="1"/>
<circle cx="181.2" cy="676.6" r="2.7" fill="#1a7420" stroke="#0a300d" stroke-width="1"/>
<circle cx="165.5" cy="686.2" r="2.7" fill="#1a7420" stroke="#0a300d" stroke-width="1"/>
<circle cx="648.6" cy="261.8" r="2.7" fill="url(#rg)" stroke="#4a0606" stroke-width="1.1"/>
<circle cx="573.1" cy="292.8" r="2.7" fill="url(#rg)" stroke="#4a0606" stroke-width="1.1"/>
<circle cx="651.7" cy="310.3" r="2.7" fill="url(#rg)" stroke="#4a0606" stroke-width="1.1"/>
<circle cx="584.4" cy="317.0" r="2.7" fill="url(#rg)" stroke="#4a0606" stroke-width="1.1"/>
<circle cx="583.5" cy="327.8" r="2.7" fill="url(#rg)" stroke="#4a0606" stroke-width="1.1"/>
<circle cx="546.2" cy="335.9" r="2.7" fill="url(#rg)" stroke="#4a0606" stroke-width="1.1"/>
<circle cx="550.2" cy="335.0" r="2.7" fill="url(#rg)" stroke="#4a0606" stroke-width="1.1"/>
<circle cx="496.7" cy="334.1" r="2.7" fill="url(#rg)" stroke="#4a0606" stroke-width="1.1"/>
<circle cx="483.3" cy="340.0" r="2.7" fill="url(#rg)" stroke="#4a0606" stroke-width="1.1"/>
<circle cx="474.3" cy="350.3" r="2.7" fill="url(#rg)" stroke="#4a0606" stroke-width="1.1"/>
<circle cx="495.8" cy="352.5" r="2.7" fill="url(#rg)" stroke="#4a0606" stroke-width="1.1"/>
<circle cx="521.5" cy="347.6" r="2.7" fill="url(#rg)" stroke="#4a0606" stroke-width="1.1"/>
<circle cx="525.0" cy="345.8" r="2.7" fill="url(#rg)" stroke="#4a0606" stroke-width="1.1"/>
<circle cx="528.2" cy="353.9" r="2.7" fill="url(#rg)" stroke="#4a0606" stroke-width="1.1"/>
<circle cx="490.0" cy="364.7" r="2.7" fill="url(#rg)" stroke="#4a0606" stroke-width="1.1"/>
<circle cx="520.1" cy="366.9" r="2.7" fill="url(#rg)" stroke="#4a0606" stroke-width="1.1"/>
<circle cx="527.3" cy="371.0" r="2.7" fill="url(#rg)" stroke="#4a0606" stroke-width="1.1"/>
<circle cx="521.5" cy="376.8" r="2.7" fill="url(#rg)" stroke="#4a0606" stroke-width="1.1"/>
<circle cx="528.2" cy="380.4" r="2.7" fill="url(#rg)" stroke="#4a0606" stroke-width="1.1"/>
<circle cx="534.0" cy="382.6" r="2.7" fill="url(#rg)" stroke="#4a0606" stroke-width="1.1"/>
<circle cx="456.3" cy="373.6" r="2.7" fill="url(#rg)" stroke="#4a0606" stroke-width="1.1"/>
<circle cx="469.3" cy="373.6" r="2.7" fill="url(#rg)" stroke="#4a0606" stroke-width="1.1"/>
<circle cx="469.5" cy="378.0" r="2.7" fill="url(#rg)" stroke="#4a0606" stroke-width="1.1"/>
<circle cx="477.9" cy="375.9" r="2.7" fill="url(#rg)" stroke="#4a0606" stroke-width="1.1"/>
<circle cx="493.6" cy="378.1" r="2.7" fill="url(#rg)" stroke="#4a0606" stroke-width="1.1"/>
<circle cx="496.8" cy="373.6" r="2.7" fill="url(#rg)" stroke="#4a0606" stroke-width="1.1"/>
<circle cx="439.7" cy="380.4" r="2.7" fill="url(#rg)" stroke="#4a0606" stroke-width="1.1"/>
<circle cx="535.0" cy="403.3" r="2.7" fill="url(#rg)" stroke="#4a0606" stroke-width="1.1"/>
<circle cx="575.8" cy="444.6" r="2.7" fill="url(#rg)" stroke="#4a0606" stroke-width="1.1"/>
<circle cx="526.0" cy="435.6" r="2.7" fill="url(#rg)" stroke="#4a0606" stroke-width="1.1"/>
<circle cx="520.6" cy="460.3" r="2.7" fill="url(#rg)" stroke="#4a0606" stroke-width="1.1"/>
<circle cx="508.0" cy="460.3" r="2.7" fill="url(#rg)" stroke="#4a0606" stroke-width="1.1"/>
<circle cx="349.0" cy="407.3" r="2.7" fill="url(#rg)" stroke="#4a0606" stroke-width="1.1"/>
<circle cx="374.6" cy="402.0" r="2.7" fill="url(#rg)" stroke="#4a0606" stroke-width="1.1"/>
<circle cx="402.9" cy="400.6" r="2.7" fill="url(#rg)" stroke="#4a0606" stroke-width="1.1"/>
<circle cx="319.7" cy="434.3" r="2.7" fill="url(#rg)" stroke="#4a0606" stroke-width="1.1"/>
<circle cx="303.6" cy="445.5" r="2.7" fill="url(#rg)" stroke="#4a0606" stroke-width="1.1"/>
<circle cx="287.9" cy="467.0" r="2.7" fill="url(#rg)" stroke="#4a0606" stroke-width="1.1"/>
<circle cx="358.0" cy="424.4" r="2.7" fill="url(#rg)" stroke="#4a0606" stroke-width="1.1"/>
<circle cx="369.2" cy="417.7" r="2.7" fill="url(#rg)" stroke="#4a0606" stroke-width="1.1"/>
<circle cx="382.6" cy="423.0" r="2.7" fill="url(#rg)" stroke="#4a0606" stroke-width="1.1"/>
<circle cx="393.9" cy="417.7" r="2.7" fill="url(#rg)" stroke="#4a0606" stroke-width="1.1"/>
<circle cx="373.9" cy="436.2" r="2.7" fill="url(#rg)" stroke="#4a0606" stroke-width="1.1"/>
<circle cx="388.1" cy="438.9" r="2.7" fill="url(#rg)" stroke="#4a0606" stroke-width="1.1"/>
<circle cx="518.3" cy="458.0" r="2.7" fill="url(#rg)" stroke="#4a0606" stroke-width="1.1"/>
<circle cx="480.1" cy="473.7" r="2.7" fill="url(#rg)" stroke="#4a0606" stroke-width="1.1"/>
<circle cx="503.5" cy="497.5" r="2.7" fill="url(#rg)" stroke="#4a0606" stroke-width="1.1"/>
<circle cx="468.9" cy="497.5" r="2.7" fill="url(#rg)" stroke="#4a0606" stroke-width="1.1"/>
<circle cx="467.5" cy="522.2" r="2.7" fill="url(#rg)" stroke="#4a0606" stroke-width="1.1"/>
<circle cx="475.6" cy="507.4" r="2.7" fill="url(#rg)" stroke="#4a0606" stroke-width="1.1"/>
<circle cx="502.4" cy="358.3" r="2.7" fill="url(#rg)" stroke="#4a0606" stroke-width="1.1"/>
<circle cx="414.7" cy="421.3" r="2.7" fill="url(#rg)" stroke="#4a0606" stroke-width="1.1"/>
<circle cx="381.9" cy="495.2" r="2.7" fill="url(#rg)" stroke="#4a0606" stroke-width="1.1"/>
<circle cx="367.4" cy="511.3" r="2.7" fill="url(#rg)" stroke="#4a0606" stroke-width="1.1"/>
<circle cx="394.1" cy="507.5" r="2.7" fill="url(#rg)" stroke="#4a0606" stroke-width="1.1"/>
<circle cx="423.1" cy="444.8" r="2.7" fill="url(#rg)" stroke="#4a0606" stroke-width="1.1"/>
<circle cx="405.1" cy="429.8" r="2.7" fill="url(#rg)" stroke="#4a0606" stroke-width="1.1"/>
<circle cx="383.7" cy="507.6" r="2.7" fill="url(#rg)" stroke="#4a0606" stroke-width="1.1"/>
<circle cx="447.2" cy="426.6" r="2.7" fill="url(#rg)" stroke="#4a0606" stroke-width="1.1"/>
<circle cx="356.0" cy="508.7" r="2.7" fill="url(#rg)" stroke="#4a0606" stroke-width="1.1"/>
<circle cx="431.1" cy="400.5" r="2.7" fill="url(#rg)" stroke="#4a0606" stroke-width="1.1"/>
<circle cx="383.2" cy="489.7" r="2.7" fill="url(#rg)" stroke="#4a0606" stroke-width="1.1"/>
<circle cx="327.6" cy="487.0" r="2.7" fill="url(#rg)" stroke="#4a0606" stroke-width="1.1"/>
<circle cx="449.7" cy="442.4" r="2.7" fill="url(#rg)" stroke="#4a0606" stroke-width="1.1"/>
<circle cx="404.4" cy="444.8" r="2.7" fill="url(#rg)" stroke="#4a0606" stroke-width="1.1"/>
<circle cx="438.4" cy="399.8" r="2.7" fill="url(#rg)" stroke="#4a0606" stroke-width="1.1"/>
<circle cx="312.3" cy="515.0" r="2.7" fill="url(#rg)" stroke="#4a0606" stroke-width="1.1"/>
<circle cx="435.4" cy="402.5" r="2.7" fill="url(#rg)" stroke="#4a0606" stroke-width="1.1"/>
<circle cx="383.0" cy="445.8" r="2.7" fill="url(#rg)" stroke="#4a0606" stroke-width="1.1"/>
<circle cx="469.7" cy="396.1" r="2.7" fill="url(#rg)" stroke="#4a0606" stroke-width="1.1"/>
<circle cx="359.8" cy="510.2" r="2.7" fill="url(#rg)" stroke="#4a0606" stroke-width="1.1"/>
<circle cx="414.5" cy="438.4" r="2.7" fill="url(#rg)" stroke="#4a0606" stroke-width="1.1"/>
<circle cx="425.4" cy="423.4" r="2.7" fill="url(#rg)" stroke="#4a0606" stroke-width="1.1"/>
<circle cx="371.3" cy="508.9" r="2.7" fill="url(#rg)" stroke="#4a0606" stroke-width="1.1"/>
<circle cx="369.2" cy="497.5" r="2.7" fill="url(#rg)" stroke="#4a0606" stroke-width="1.1"/>
<circle cx="413.6" cy="470.5" r="2.7" fill="url(#rg)" stroke="#4a0606" stroke-width="1.1"/>
<circle cx="425.6" cy="419.0" r="2.7" fill="url(#rg)" stroke="#4a0606" stroke-width="1.1"/>
<circle cx="445.5" cy="477.0" r="2.7" fill="url(#rg)" stroke="#4a0606" stroke-width="1.1"/>
<circle cx="466.4" cy="423.7" r="2.7" fill="url(#rg)" stroke="#4a0606" stroke-width="1.1"/>
<circle cx="369.6" cy="450.9" r="2.7" fill="url(#rg)" stroke="#4a0606" stroke-width="1.1"/>
<circle cx="448.7" cy="434.8" r="2.7" fill="url(#rg)" stroke="#4a0606" stroke-width="1.1"/>
<circle cx="420.7" cy="465.3" r="2.7" fill="url(#rg)" stroke="#4a0606" stroke-width="1.1"/>
<circle cx="401.3" cy="486.3" r="2.7" fill="url(#rg)" stroke="#4a0606" stroke-width="1.1"/>
<circle cx="377.4" cy="494.2" r="2.7" fill="url(#rg)" stroke="#4a0606" stroke-width="1.1"/>
<circle cx="398.8" cy="468.3" r="2.7" fill="url(#rg)" stroke="#4a0606" stroke-width="1.1"/>
<circle cx="427.2" cy="484.5" r="2.7" fill="url(#rg)" stroke="#4a0606" stroke-width="1.1"/>
<circle cx="294.2" cy="484.9" r="2.7" fill="url(#rg)" stroke="#4a0606" stroke-width="1.1"/>
<circle cx="460.9" cy="450.2" r="2.7" fill="url(#rg)" stroke="#4a0606" stroke-width="1.1"/>
<circle cx="327.4" cy="484.6" r="2.7" fill="url(#rg)" stroke="#4a0606" stroke-width="1.1"/>
<circle cx="369.6" cy="444.5" r="2.7" fill="url(#rg)" stroke="#4a0606" stroke-width="1.1"/>
<circle cx="318.0" cy="512.5" r="2.7" fill="url(#rg)" stroke="#4a0606" stroke-width="1.1"/>
<circle cx="380.9" cy="511.1" r="2.7" fill="url(#rg)" stroke="#4a0606" stroke-width="1.1"/>
<circle cx="451.2" cy="477.1" r="2.7" fill="url(#rg)" stroke="#4a0606" stroke-width="1.1"/>
<circle cx="374.9" cy="445.7" r="2.7" fill="url(#rg)" stroke="#4a0606" stroke-width="1.1"/>
<circle cx="339.7" cy="492.7" r="2.7" fill="url(#rg)" stroke="#4a0606" stroke-width="1.1"/>
<circle cx="442.6" cy="427.7" r="2.7" fill="url(#rg)" stroke="#4a0606" stroke-width="1.1"/>
<circle cx="391.6" cy="431.8" r="2.7" fill="url(#rg)" stroke="#4a0606" stroke-width="1.1"/>
<circle cx="301.0" cy="496.8" r="2.7" fill="url(#rg)" stroke="#4a0606" stroke-width="1.1"/>
<circle cx="429.4" cy="473.0" r="2.7" fill="url(#rg)" stroke="#4a0606" stroke-width="1.1"/>
<circle cx="418.9" cy="515.5" r="2.7" fill="url(#rg)" stroke="#4a0606" stroke-width="1.1"/>
<circle cx="386.7" cy="437.3" r="2.7" fill="url(#rg)" stroke="#4a0606" stroke-width="1.1"/>
<circle cx="460.5" cy="444.5" r="2.7" fill="url(#rg)" stroke="#4a0606" stroke-width="1.1"/>
<circle cx="385.4" cy="506.7" r="2.7" fill="url(#rg)" stroke="#4a0606" stroke-width="1.1"/>
<circle cx="328.1" cy="516.4" r="2.7" fill="url(#rg)" stroke="#4a0606" stroke-width="1.1"/>
<circle cx="443.9" cy="413.5" r="2.7" fill="url(#rg)" stroke="#4a0606" stroke-width="1.1"/>
<circle cx="364.9" cy="514.1" r="2.7" fill="url(#rg)" stroke="#4a0606" stroke-width="1.1"/>
<circle cx="364.3" cy="467.1" r="2.7" fill="url(#rg)" stroke="#4a0606" stroke-width="1.1"/>
<circle cx="466.8" cy="418.0" r="2.7" fill="url(#rg)" stroke="#4a0606" stroke-width="1.1"/>
<circle cx="402.0" cy="487.6" r="2.7" fill="url(#rg)" stroke="#4a0606" stroke-width="1.1"/>
<circle cx="402.4" cy="427.1" r="2.7" fill="url(#rg)" stroke="#4a0606" stroke-width="1.1"/>
<circle cx="390.2" cy="434.5" r="2.7" fill="url(#rg)" stroke="#4a0606" stroke-width="1.1"/>
<circle cx="448.0" cy="454.6" r="2.7" fill="url(#rg)" stroke="#4a0606" stroke-width="1.1"/>
<circle cx="409.2" cy="423.4" r="2.7" fill="url(#rg)" stroke="#4a0606" stroke-width="1.1"/>
<circle cx="409.3" cy="511.0" r="2.7" fill="url(#rg)" stroke="#4a0606" stroke-width="1.1"/>
<circle cx="361.0" cy="471.5" r="2.7" fill="url(#rg)" stroke="#4a0606" stroke-width="1.1"/>
<circle cx="404.6" cy="515.1" r="2.7" fill="url(#rg)" stroke="#4a0606" stroke-width="1.1"/>
<circle cx="467.9" cy="401.1" r="2.7" fill="url(#rg)" stroke="#4a0606" stroke-width="1.1"/>
<circle cx="348.4" cy="514.3" r="2.7" fill="url(#rg)" stroke="#4a0606" stroke-width="1.1"/>
<circle cx="346.6" cy="496.2" r="2.7" fill="url(#rg)" stroke="#4a0606" stroke-width="1.1"/>
<circle cx="455.3" cy="406.8" r="2.7" fill="url(#rg)" stroke="#4a0606" stroke-width="1.1"/>
<circle cx="358.5" cy="494.7" r="2.7" fill="url(#rg)" stroke="#4a0606" stroke-width="1.1"/>
<circle cx="291.3" cy="503.3" r="2.7" fill="url(#rg)" stroke="#4a0606" stroke-width="1.1"/>
<circle cx="461.4" cy="464.4" r="2.7" fill="url(#rg)" stroke="#4a0606" stroke-width="1.1"/>
<circle cx="368.3" cy="516.4" r="2.7" fill="url(#rg)" stroke="#4a0606" stroke-width="1.1"/>
<circle cx="435.0" cy="491.3" r="2.7" fill="url(#rg)" stroke="#4a0606" stroke-width="1.1"/>
<circle cx="350.1" cy="495.0" r="2.7" fill="url(#rg)" stroke="#4a0606" stroke-width="1.1"/>
<circle cx="343.9" cy="518.0" r="2.7" fill="url(#rg)" stroke="#4a0606" stroke-width="1.1"/>
<circle cx="374.8" cy="483.2" r="2.7" fill="url(#rg)" stroke="#4a0606" stroke-width="1.1"/>
<circle cx="400.2" cy="471.4" r="2.7" fill="url(#rg)" stroke="#4a0606" stroke-width="1.1"/>
<circle cx="299.9" cy="497.4" r="2.7" fill="url(#rg)" stroke="#4a0606" stroke-width="1.1"/>
<circle cx="420.2" cy="409.8" r="2.7" fill="url(#rg)" stroke="#4a0606" stroke-width="1.1"/>
<circle cx="440.5" cy="467.2" r="2.7" fill="url(#rg)" stroke="#4a0606" stroke-width="1.1"/>
<circle cx="350.1" cy="507.3" r="2.7" fill="url(#rg)" stroke="#4a0606" stroke-width="1.1"/>
<circle cx="396.4" cy="472.1" r="2.7" fill="url(#rg)" stroke="#4a0606" stroke-width="1.1"/>
<circle cx="433.4" cy="459.1" r="2.7" fill="url(#rg)" stroke="#4a0606" stroke-width="1.1"/>
<circle cx="386.7" cy="474.1" r="2.7" fill="url(#rg)" stroke="#4a0606" stroke-width="1.1"/>
<circle cx="335.5" cy="513.3" r="2.7" fill="url(#rg)" stroke="#4a0606" stroke-width="1.1"/>
<circle cx="357.5" cy="503.4" r="2.7" fill="url(#rg)" stroke="#4a0606" stroke-width="1.1"/>
<circle cx="420.8" cy="406.9" r="2.7" fill="url(#rg)" stroke="#4a0606" stroke-width="1.1"/>
<circle cx="399.5" cy="506.3" r="2.7" fill="url(#rg)" stroke="#4a0606" stroke-width="1.1"/>
<circle cx="458.5" cy="388.0" r="2.7" fill="url(#rg)" stroke="#4a0606" stroke-width="1.1"/>
<circle cx="398.1" cy="494.2" r="2.7" fill="url(#rg)" stroke="#4a0606" stroke-width="1.1"/>
<circle cx="357.4" cy="501.3" r="2.7" fill="url(#rg)" stroke="#4a0606" stroke-width="1.1"/>
<circle cx="412.9" cy="504.6" r="2.7" fill="url(#rg)" stroke="#4a0606" stroke-width="1.1"/>
<circle cx="283.7" cy="496.0" r="2.7" fill="url(#rg)" stroke="#4a0606" stroke-width="1.1"/>
<circle cx="396.2" cy="421.6" r="2.7" fill="url(#rg)" stroke="#4a0606" stroke-width="1.1"/>
<circle cx="409.1" cy="443.6" r="2.7" fill="url(#rg)" stroke="#4a0606" stroke-width="1.1"/>
<circle cx="426.4" cy="493.0" r="2.7" fill="url(#rg)" stroke="#4a0606" stroke-width="1.1"/>
<circle cx="362.9" cy="451.0" r="2.7" fill="url(#rg)" stroke="#4a0606" stroke-width="1.1"/>
<circle cx="422.6" cy="490.8" r="2.7" fill="url(#rg)" stroke="#4a0606" stroke-width="1.1"/>
<circle cx="357.7" cy="506.3" r="2.7" fill="url(#rg)" stroke="#4a0606" stroke-width="1.1"/>
<circle cx="422.4" cy="494.5" r="2.7" fill="url(#rg)" stroke="#4a0606" stroke-width="1.1"/>
<circle cx="325.1" cy="494.9" r="2.7" fill="url(#rg)" stroke="#4a0606" stroke-width="1.1"/>
<circle cx="392.7" cy="467.6" r="2.7" fill="url(#rg)" stroke="#4a0606" stroke-width="1.1"/>
<circle cx="398.6" cy="444.7" r="2.7" fill="url(#rg)" stroke="#4a0606" stroke-width="1.1"/>
<circle cx="398.1" cy="440.0" r="2.7" fill="url(#rg)" stroke="#4a0606" stroke-width="1.1"/>
<circle cx="325.6" cy="472.1" r="2.7" fill="url(#rg)" stroke="#4a0606" stroke-width="1.1"/>
<circle cx="306.0" cy="513.1" r="2.7" fill="url(#rg)" stroke="#4a0606" stroke-width="1.1"/>
<circle cx="283.8" cy="487.6" r="2.7" fill="url(#rg)" stroke="#4a0606" stroke-width="1.1"/>
<circle cx="396.1" cy="449.8" r="2.7" fill="url(#rg)" stroke="#4a0606" stroke-width="1.1"/>
<circle cx="440.2" cy="481.8" r="2.7" fill="url(#rg)" stroke="#4a0606" stroke-width="1.1"/>
<circle cx="346.1" cy="481.8" r="2.7" fill="url(#rg)" stroke="#4a0606" stroke-width="1.1"/>
<circle cx="362.2" cy="495.5" r="2.7" fill="url(#rg)" stroke="#4a0606" stroke-width="1.1"/>
<circle cx="408.7" cy="514.1" r="2.7" fill="url(#rg)" stroke="#4a0606" stroke-width="1.1"/>
<circle cx="321.3" cy="466.9" r="2.7" fill="url(#rg)" stroke="#4a0606" stroke-width="1.1"/>
<circle cx="457.3" cy="428.8" r="2.7" fill="url(#rg)" stroke="#4a0606" stroke-width="1.1"/>
<circle cx="460.0" cy="395.6" r="2.7" fill="url(#rg)" stroke="#4a0606" stroke-width="1.1"/>
<circle cx="437.8" cy="469.8" r="2.7" fill="url(#rg)" stroke="#4a0606" stroke-width="1.1"/>
<circle cx="423.2" cy="409.2" r="2.7" fill="url(#rg)" stroke="#4a0606" stroke-width="1.1"/>
<circle cx="419.3" cy="431.1" r="2.7" fill="url(#rg)" stroke="#4a0606" stroke-width="1.1"/>
<circle cx="438.9" cy="468.8" r="2.7" fill="url(#rg)" stroke="#4a0606" stroke-width="1.1"/>
<circle cx="370.4" cy="492.4" r="2.7" fill="url(#rg)" stroke="#4a0606" stroke-width="1.1"/>
<circle cx="411.9" cy="449.3" r="2.7" fill="url(#rg)" stroke="#4a0606" stroke-width="1.1"/>
<circle cx="394.1" cy="434.0" r="2.7" fill="url(#rg)" stroke="#4a0606" stroke-width="1.1"/>
<circle cx="296.6" cy="507.5" r="2.7" fill="url(#rg)" stroke="#4a0606" stroke-width="1.1"/>
<circle cx="452.8" cy="449.2" r="2.7" fill="url(#rg)" stroke="#4a0606" stroke-width="1.1"/>
<circle cx="367.4" cy="450.6" r="2.7" fill="url(#rg)" stroke="#4a0606" stroke-width="1.1"/>
<circle cx="420.8" cy="463.1" r="2.7" fill="url(#rg)" stroke="#4a0606" stroke-width="1.1"/>
<circle cx="337.9" cy="480.6" r="2.7" fill="url(#rg)" stroke="#4a0606" stroke-width="1.1"/>
<circle cx="432.3" cy="487.4" r="2.7" fill="url(#rg)" stroke="#4a0606" stroke-width="1.1"/>
<circle cx="351.3" cy="491.5" r="2.7" fill="url(#rg)" stroke="#4a0606" stroke-width="1.1"/>
<circle cx="397.2" cy="435.3" r="2.7" fill="url(#rg)" stroke="#4a0606" stroke-width="1.1"/>
<circle cx="389.5" cy="490.4" r="2.7" fill="url(#rg)" stroke="#4a0606" stroke-width="1.1"/>
<circle cx="357.9" cy="488.7" r="2.7" fill="url(#rg)" stroke="#4a0606" stroke-width="1.1"/>
<circle cx="399.6" cy="436.9" r="2.7" fill="url(#rg)" stroke="#4a0606" stroke-width="1.1"/>
<circle cx="396.1" cy="490.2" r="2.7" fill="url(#rg)" stroke="#4a0606" stroke-width="1.1"/>
<circle cx="384.7" cy="456.0" r="2.7" fill="url(#rg)" stroke="#4a0606" stroke-width="1.1"/>
<circle cx="439.4" cy="452.9" r="2.7" fill="url(#rg)" stroke="#4a0606" stroke-width="1.1"/>
<circle cx="305.1" cy="519.6" r="2.7" fill="url(#rg)" stroke="#4a0606" stroke-width="1.1"/>
<circle cx="413.3" cy="434.5" r="2.7" fill="url(#rg)" stroke="#4a0606" stroke-width="1.1"/>
<circle cx="459.5" cy="451.5" r="2.7" fill="url(#rg)" stroke="#4a0606" stroke-width="1.1"/>
<circle cx="371.6" cy="458.6" r="2.7" fill="url(#rg)" stroke="#4a0606" stroke-width="1.1"/>
<circle cx="415.9" cy="422.9" r="2.7" fill="url(#rg)" stroke="#4a0606" stroke-width="1.1"/>
<circle cx="356.7" cy="475.1" r="2.7" fill="url(#rg)" stroke="#4a0606" stroke-width="1.1"/>
<circle cx="431.8" cy="425.8" r="2.7" fill="url(#rg)" stroke="#4a0606" stroke-width="1.1"/>
<circle cx="312.4" cy="501.3" r="2.7" fill="url(#rg)" stroke="#4a0606" stroke-width="1.1"/>
<circle cx="316.9" cy="474.5" r="2.7" fill="url(#rg)" stroke="#4a0606" stroke-width="1.1"/>
<circle cx="447.8" cy="459.9" r="2.7" fill="url(#rg)" stroke="#4a0606" stroke-width="1.1"/>
<circle cx="373.3" cy="450.0" r="2.7" fill="url(#rg)" stroke="#4a0606" stroke-width="1.1"/>
<circle cx="436.7" cy="441.0" r="2.7" fill="url(#rg)" stroke="#4a0606" stroke-width="1.1"/>
<circle cx="391.5" cy="483.7" r="2.7" fill="url(#rg)" stroke="#4a0606" stroke-width="1.1"/>
<circle cx="340.4" cy="502.1" r="2.7" fill="url(#rg)" stroke="#4a0606" stroke-width="1.1"/>
<circle cx="422.9" cy="411.5" r="2.7" fill="url(#rg)" stroke="#4a0606" stroke-width="1.1"/>
<circle cx="429.2" cy="430.5" r="2.7" fill="url(#rg)" stroke="#4a0606" stroke-width="1.1"/>
<circle cx="399.4" cy="484.4" r="2.7" fill="url(#rg)" stroke="#4a0606" stroke-width="1.1"/>
<circle cx="312.8" cy="505.5" r="2.7" fill="url(#rg)" stroke="#4a0606" stroke-width="1.1"/>
<circle cx="449.6" cy="462.9" r="2.7" fill="url(#rg)" stroke="#4a0606" stroke-width="1.1"/>
<circle cx="391.4" cy="473.1" r="2.7" fill="url(#rg)" stroke="#4a0606" stroke-width="1.1"/>
<circle cx="429.8" cy="395.5" r="2.7" fill="url(#rg)" stroke="#4a0606" stroke-width="1.1"/>
<circle cx="456.0" cy="467.7" r="2.7" fill="url(#rg)" stroke="#4a0606" stroke-width="1.1"/>
<circle cx="401.0" cy="511.3" r="2.7" fill="url(#rg)" stroke="#4a0606" stroke-width="1.1"/>
<circle cx="451.5" cy="445.6" r="2.7" fill="url(#rg)" stroke="#4a0606" stroke-width="1.1"/>
<circle cx="299.2" cy="471.3" r="2.7" fill="url(#rg)" stroke="#4a0606" stroke-width="1.1"/>
<circle cx="303.8" cy="515.1" r="2.7" fill="url(#rg)" stroke="#4a0606" stroke-width="1.1"/>
<circle cx="330.6" cy="485.0" r="2.7" fill="url(#rg)" stroke="#4a0606" stroke-width="1.1"/>
<circle cx="371.9" cy="510.4" r="2.7" fill="url(#rg)" stroke="#4a0606" stroke-width="1.1"/>
<circle cx="401.6" cy="499.7" r="2.7" fill="url(#rg)" stroke="#4a0606" stroke-width="1.1"/>
<circle cx="313.8" cy="502.4" r="2.7" fill="url(#rg)" stroke="#4a0606" stroke-width="1.1"/>
<circle cx="392.3" cy="446.1" r="2.7" fill="url(#rg)" stroke="#4a0606" stroke-width="1.1"/>
<circle cx="346.1" cy="472.4" r="2.7" fill="url(#rg)" stroke="#4a0606" stroke-width="1.1"/>
<circle cx="436.5" cy="462.9" r="2.7" fill="url(#rg)" stroke="#4a0606" stroke-width="1.1"/>
<circle cx="407.0" cy="491.6" r="2.7" fill="url(#rg)" stroke="#4a0606" stroke-width="1.1"/>
<circle cx="432.2" cy="467.5" r="2.7" fill="url(#rg)" stroke="#4a0606" stroke-width="1.1"/>
<circle cx="355.6" cy="473.3" r="2.7" fill="url(#rg)" stroke="#4a0606" stroke-width="1.1"/>
<circle cx="396.7" cy="496.5" r="2.7" fill="url(#rg)" stroke="#4a0606" stroke-width="1.1"/>
<circle cx="448.5" cy="427.1" r="2.7" fill="url(#rg)" stroke="#4a0606" stroke-width="1.1"/>
<circle cx="326.8" cy="486.2" r="2.7" fill="url(#rg)" stroke="#4a0606" stroke-width="1.1"/>
<circle cx="427.5" cy="485.8" r="2.7" fill="url(#rg)" stroke="#4a0606" stroke-width="1.1"/>
<circle cx="446.5" cy="452.5" r="2.7" fill="url(#rg)" stroke="#4a0606" stroke-width="1.1"/>
<circle cx="410.1" cy="433.2" r="2.7" fill="url(#rg)" stroke="#4a0606" stroke-width="1.1"/>
<circle cx="465.9" cy="428.8" r="2.7" fill="url(#rg)" stroke="#4a0606" stroke-width="1.1"/>
<circle cx="372.7" cy="456.9" r="2.7" fill="url(#rg)" stroke="#4a0606" stroke-width="1.1"/>
<circle cx="391.9" cy="500.6" r="2.7" fill="url(#rg)" stroke="#4a0606" stroke-width="1.1"/>
<circle cx="457.5" cy="410.5" r="2.7" fill="url(#rg)" stroke="#4a0606" stroke-width="1.1"/>
<circle cx="411.3" cy="442.0" r="2.7" fill="url(#rg)" stroke="#4a0606" stroke-width="1.1"/>
<circle cx="468.3" cy="414.1" r="2.7" fill="url(#rg)" stroke="#4a0606" stroke-width="1.1"/>
<circle cx="467.4" cy="380.8" r="2.7" fill="url(#rg)" stroke="#4a0606" stroke-width="1.1"/>
<circle cx="306.4" cy="473.6" r="2.7" fill="url(#rg)" stroke="#4a0606" stroke-width="1.1"/>
<circle cx="291.9" cy="508.4" r="2.7" fill="url(#rg)" stroke="#4a0606" stroke-width="1.1"/>
<circle cx="454.5" cy="403.7" r="2.7" fill="url(#rg)" stroke="#4a0606" stroke-width="1.1"/>
<circle cx="437.0" cy="473.3" r="2.7" fill="url(#rg)" stroke="#4a0606" stroke-width="1.1"/>
<circle cx="370.7" cy="469.6" r="2.7" fill="url(#rg)" stroke="#4a0606" stroke-width="1.1"/>
<circle cx="417.1" cy="456.3" r="2.7" fill="url(#rg)" stroke="#4a0606" stroke-width="1.1"/>
<circle cx="332.9" cy="501.4" r="2.7" fill="url(#rg)" stroke="#4a0606" stroke-width="1.1"/>
<circle cx="341.1" cy="507.2" r="2.7" fill="url(#rg)" stroke="#4a0606" stroke-width="1.1"/>
<circle cx="447.6" cy="474.6" r="2.7" fill="url(#rg)" stroke="#4a0606" stroke-width="1.1"/>
<circle cx="350.1" cy="519.1" r="2.7" fill="url(#rg)" stroke="#4a0606" stroke-width="1.1"/>
<circle cx="334.3" cy="503.9" r="2.7" fill="url(#rg)" stroke="#4a0606" stroke-width="1.1"/>
<circle cx="360.9" cy="507.9" r="2.7" fill="url(#rg)" stroke="#4a0606" stroke-width="1.1"/>
<circle cx="438.6" cy="464.1" r="2.7" fill="url(#rg)" stroke="#4a0606" stroke-width="1.1"/>
<circle cx="358.3" cy="479.2" r="2.7" fill="url(#rg)" stroke="#4a0606" stroke-width="1.1"/>
<circle cx="435.1" cy="434.7" r="2.7" fill="url(#rg)" stroke="#4a0606" stroke-width="1.1"/>
<circle cx="363.2" cy="447.3" r="2.7" fill="url(#rg)" stroke="#4a0606" stroke-width="1.1"/>
<circle cx="357.3" cy="480.6" r="2.7" fill="url(#rg)" stroke="#4a0606" stroke-width="1.1"/>
<circle cx="373.2" cy="452.2" r="2.7" fill="url(#rg)" stroke="#4a0606" stroke-width="1.1"/>
<circle cx="465.6" cy="412.9" r="2.7" fill="url(#rg)" stroke="#4a0606" stroke-width="1.1"/>
<circle cx="301.9" cy="479.0" r="2.7" fill="url(#rg)" stroke="#4a0606" stroke-width="1.1"/>
<circle cx="394.2" cy="457.4" r="2.7" fill="url(#rg)" stroke="#4a0606" stroke-width="1.1"/>
<circle cx="443.5" cy="399.0" r="2.7" fill="url(#rg)" stroke="#4a0606" stroke-width="1.1"/>
<circle cx="444.3" cy="452.2" r="2.7" fill="url(#rg)" stroke="#4a0606" stroke-width="1.1"/>
<circle cx="402.9" cy="432.7" r="2.7" fill="url(#rg)" stroke="#4a0606" stroke-width="1.1"/>
<circle cx="323.6" cy="473.9" r="2.7" fill="url(#rg)" stroke="#4a0606" stroke-width="1.1"/>
<circle cx="392.3" cy="518.1" r="2.7" fill="url(#rg)" stroke="#4a0606" stroke-width="1.1"/>
<circle cx="438.3" cy="464.4" r="2.7" fill="url(#rg)" stroke="#4a0606" stroke-width="1.1"/>
<circle cx="412.3" cy="442.8" r="2.7" fill="url(#rg)" stroke="#4a0606" stroke-width="1.1"/>
<circle cx="348.9" cy="467.4" r="2.7" fill="url(#rg)" stroke="#4a0606" stroke-width="1.1"/>
<circle cx="443.0" cy="444.1" r="2.7" fill="url(#rg)" stroke="#4a0606" stroke-width="1.1"/>
<circle cx="323.9" cy="517.5" r="2.7" fill="url(#rg)" stroke="#4a0606" stroke-width="1.1"/>
<circle cx="349.9" cy="470.7" r="2.7" fill="url(#rg)" stroke="#4a0606" stroke-width="1.1"/>
<circle cx="378.3" cy="480.8" r="2.7" fill="url(#rg)" stroke="#4a0606" stroke-width="1.1"/>
<circle cx="304.1" cy="498.8" r="2.7" fill="url(#rg)" stroke="#4a0606" stroke-width="1.1"/>
<circle cx="369.8" cy="518.3" r="2.7" fill="url(#rg)" stroke="#4a0606" stroke-width="1.1"/>
<circle cx="442.6" cy="466.6" r="2.7" fill="url(#rg)" stroke="#4a0606" stroke-width="1.1"/>
<circle cx="414.5" cy="420.3" r="2.7" fill="url(#rg)" stroke="#4a0606" stroke-width="1.1"/>
<circle cx="337.6" cy="491.0" r="2.7" fill="url(#rg)" stroke="#4a0606" stroke-width="1.1"/>
<circle cx="363.8" cy="507.2" r="2.7" fill="url(#rg)" stroke="#4a0606" stroke-width="1.1"/>
<circle cx="375.9" cy="454.7" r="2.7" fill="url(#rg)" stroke="#4a0606" stroke-width="1.1"/>
<circle cx="406.2" cy="456.2" r="2.7" fill="url(#rg)" stroke="#4a0606" stroke-width="1.1"/>
<circle cx="389.8" cy="460.2" r="2.7" fill="url(#rg)" stroke="#4a0606" stroke-width="1.1"/>
<circle cx="361.3" cy="471.1" r="2.7" fill="url(#rg)" stroke="#4a0606" stroke-width="1.1"/>
<circle cx="440.5" cy="403.3" r="2.7" fill="url(#rg)" stroke="#4a0606" stroke-width="1.1"/>
<circle cx="391.7" cy="442.2" r="2.7" fill="url(#rg)" stroke="#4a0606" stroke-width="1.1"/>
<circle cx="448.9" cy="463.0" r="2.7" fill="url(#rg)" stroke="#4a0606" stroke-width="1.1"/>
<circle cx="338.1" cy="510.6" r="2.7" fill="url(#rg)" stroke="#4a0606" stroke-width="1.1"/>
<circle cx="418.8" cy="408.8" r="2.7" fill="url(#rg)" stroke="#4a0606" stroke-width="1.1"/>
<circle cx="429.3" cy="415.8" r="2.7" fill="url(#rg)" stroke="#4a0606" stroke-width="1.1"/>
<circle cx="467.4" cy="423.4" r="2.7" fill="url(#rg)" stroke="#4a0606" stroke-width="1.1"/>
<circle cx="437.7" cy="431.8" r="2.7" fill="url(#rg)" stroke="#4a0606" stroke-width="1.1"/>
<circle cx="405.7" cy="426.9" r="2.7" fill="url(#rg)" stroke="#4a0606" stroke-width="1.1"/>
<circle cx="325.5" cy="499.7" r="2.7" fill="url(#rg)" stroke="#4a0606" stroke-width="1.1"/>
<circle cx="432.3" cy="399.6" r="2.7" fill="url(#rg)" stroke="#4a0606" stroke-width="1.1"/>
<circle cx="389.8" cy="430.6" r="2.7" fill="url(#rg)" stroke="#4a0606" stroke-width="1.1"/>
<circle cx="443.4" cy="396.7" r="2.7" fill="url(#rg)" stroke="#4a0606" stroke-width="1.1"/>
<circle cx="312.5" cy="498.8" r="2.7" fill="url(#rg)" stroke="#4a0606" stroke-width="1.1"/>
<circle cx="298.1" cy="484.8" r="2.7" fill="url(#rg)" stroke="#4a0606" stroke-width="1.1"/>
<circle cx="403.4" cy="425.6" r="2.7" fill="url(#rg)" stroke="#4a0606" stroke-width="1.1"/>
<circle cx="325.5" cy="498.0" r="2.7" fill="url(#rg)" stroke="#4a0606" stroke-width="1.1"/>
<circle cx="340.8" cy="466.7" r="2.7" fill="url(#rg)" stroke="#4a0606" stroke-width="1.1"/>
<circle cx="414.9" cy="413.4" r="2.7" fill="url(#rg)" stroke="#4a0606" stroke-width="1.1"/>
<circle cx="429.9" cy="417.1" r="2.7" fill="url(#rg)" stroke="#4a0606" stroke-width="1.1"/>
<circle cx="305.0" cy="489.0" r="2.7" fill="url(#rg)" stroke="#4a0606" stroke-width="1.1"/>
<circle cx="428.0" cy="500.7" r="2.7" fill="url(#rg)" stroke="#4a0606" stroke-width="1.1"/>
<circle cx="359.9" cy="505.5" r="2.7" fill="url(#rg)" stroke="#4a0606" stroke-width="1.1"/>
<circle cx="398.1" cy="440.8" r="2.7" fill="url(#rg)" stroke="#4a0606" stroke-width="1.1"/>
<circle cx="377.1" cy="510.0" r="2.7" fill="url(#rg)" stroke="#4a0606" stroke-width="1.1"/>
<circle cx="405.8" cy="491.3" r="2.7" fill="url(#rg)" stroke="#4a0606" stroke-width="1.1"/>
<circle cx="403.6" cy="457.7" r="2.7" fill="url(#rg)" stroke="#4a0606" stroke-width="1.1"/>
<circle cx="414.4" cy="478.1" r="2.7" fill="url(#rg)" stroke="#4a0606" stroke-width="1.1"/>
<circle cx="362.4" cy="517.9" r="2.7" fill="url(#rg)" stroke="#4a0606" stroke-width="1.1"/>
<circle cx="343.2" cy="493.1" r="2.7" fill="url(#rg)" stroke="#4a0606" stroke-width="1.1"/>
<circle cx="407.0" cy="458.8" r="2.7" fill="url(#rg)" stroke="#4a0606" stroke-width="1.1"/>
<circle cx="319.1" cy="480.7" r="2.7" fill="url(#rg)" stroke="#4a0606" stroke-width="1.1"/>
<circle cx="372.3" cy="441.1" r="2.7" fill="url(#rg)" stroke="#4a0606" stroke-width="1.1"/>
<circle cx="428.7" cy="502.3" r="2.7" fill="url(#rg)" stroke="#4a0606" stroke-width="1.1"/>
<circle cx="422.1" cy="423.7" r="2.7" fill="url(#rg)" stroke="#4a0606" stroke-width="1.1"/>
<circle cx="350.8" cy="455.8" r="2.7" fill="url(#rg)" stroke="#4a0606" stroke-width="1.1"/>
<circle cx="405.2" cy="491.5" r="2.7" fill="url(#rg)" stroke="#4a0606" stroke-width="1.1"/>
<circle cx="372.5" cy="454.2" r="2.7" fill="url(#rg)" stroke="#4a0606" stroke-width="1.1"/>
<circle cx="287.3" cy="479.8" r="2.7" fill="url(#rg)" stroke="#4a0606" stroke-width="1.1"/>
<circle cx="427.5" cy="436.9" r="2.7" fill="url(#rg)" stroke="#4a0606" stroke-width="1.1"/>
<circle cx="364.6" cy="472.9" r="2.7" fill="url(#rg)" stroke="#4a0606" stroke-width="1.1"/>
<circle cx="367.6" cy="476.5" r="2.7" fill="url(#rg)" stroke="#4a0606" stroke-width="1.1"/>
<circle cx="407.2" cy="440.6" r="2.7" fill="url(#rg)" stroke="#4a0606" stroke-width="1.1"/>
<circle cx="387.4" cy="437.5" r="2.7" fill="url(#rg)" stroke="#4a0606" stroke-width="1.1"/>
<circle cx="450.5" cy="455.5" r="2.7" fill="url(#rg)" stroke="#4a0606" stroke-width="1.1"/>
<circle cx="376.3" cy="463.6" r="2.7" fill="url(#rg)" stroke="#4a0606" stroke-width="1.1"/>
<circle cx="362.1" cy="496.8" r="2.7" fill="url(#rg)" stroke="#4a0606" stroke-width="1.1"/>
<circle cx="302.6" cy="503.8" r="2.7" fill="url(#rg)" stroke="#4a0606" stroke-width="1.1"/>
<circle cx="386.9" cy="488.3" r="2.7" fill="url(#rg)" stroke="#4a0606" stroke-width="1.1"/>
<circle cx="403.1" cy="500.0" r="2.7" fill="url(#rg)" stroke="#4a0606" stroke-width="1.1"/>
<circle cx="311.9" cy="480.6" r="2.7" fill="url(#rg)" stroke="#4a0606" stroke-width="1.1"/>
<circle cx="436.2" cy="390.0" r="2.7" fill="url(#rg)" stroke="#4a0606" stroke-width="1.1"/>
<circle cx="388.1" cy="491.2" r="2.7" fill="url(#rg)" stroke="#4a0606" stroke-width="1.1"/>
<circle cx="365.1" cy="498.6" r="2.7" fill="url(#rg)" stroke="#4a0606" stroke-width="1.1"/>
<circle cx="298.2" cy="492.1" r="2.7" fill="url(#rg)" stroke="#4a0606" stroke-width="1.1"/>
<circle cx="413.0" cy="431.1" r="2.7" fill="url(#rg)" stroke="#4a0606" stroke-width="1.1"/>
<circle cx="448.1" cy="497.9" r="2.7" fill="url(#rg)" stroke="#4a0606" stroke-width="1.1"/>
<circle cx="412.1" cy="440.2" r="2.7" fill="url(#rg)" stroke="#4a0606" stroke-width="1.1"/>
<circle cx="356.8" cy="504.3" r="2.7" fill="url(#rg)" stroke="#4a0606" stroke-width="1.1"/>
<circle cx="322.5" cy="506.5" r="2.7" fill="url(#rg)" stroke="#4a0606" stroke-width="1.1"/>
<circle cx="393.4" cy="434.8" r="2.7" fill="url(#rg)" stroke="#4a0606" stroke-width="1.1"/>
<circle cx="388.7" cy="454.4" r="2.7" fill="url(#rg)" stroke="#4a0606" stroke-width="1.1"/>
<circle cx="386.9" cy="484.5" r="2.7" fill="url(#rg)" stroke="#4a0606" stroke-width="1.1"/>
<circle cx="402.1" cy="425.3" r="2.7" fill="url(#rg)" stroke="#4a0606" stroke-width="1.1"/>
<circle cx="333.2" cy="487.4" r="2.7" fill="url(#rg)" stroke="#4a0606" stroke-width="1.1"/>
<circle cx="348.8" cy="458.7" r="2.7" fill="url(#rg)" stroke="#4a0606" stroke-width="1.1"/>
<circle cx="443.1" cy="442.8" r="2.7" fill="url(#rg)" stroke="#4a0606" stroke-width="1.1"/>
<circle cx="346.0" cy="510.8" r="2.7" fill="url(#rg)" stroke="#4a0606" stroke-width="1.1"/>
<circle cx="390.6" cy="516.1" r="2.7" fill="url(#rg)" stroke="#4a0606" stroke-width="1.1"/>
<circle cx="452.6" cy="419.2" r="2.7" fill="url(#rg)" stroke="#4a0606" stroke-width="1.1"/>
<circle cx="328.9" cy="480.5" r="2.7" fill="url(#rg)" stroke="#4a0606" stroke-width="1.1"/>
<circle cx="396.0" cy="506.4" r="2.7" fill="url(#rg)" stroke="#4a0606" stroke-width="1.1"/>
<circle cx="465.2" cy="459.0" r="2.7" fill="url(#rg)" stroke="#4a0606" stroke-width="1.1"/>
<circle cx="421.1" cy="469.0" r="2.7" fill="url(#rg)" stroke="#4a0606" stroke-width="1.1"/>
<circle cx="373.2" cy="464.4" r="2.7" fill="url(#rg)" stroke="#4a0606" stroke-width="1.1"/>
<circle cx="418.4" cy="427.8" r="2.7" fill="url(#rg)" stroke="#4a0606" stroke-width="1.1"/>
<circle cx="382.8" cy="477.0" r="2.7" fill="url(#rg)" stroke="#4a0606" stroke-width="1.1"/>
<circle cx="329.0" cy="477.8" r="2.7" fill="url(#rg)" stroke="#4a0606" stroke-width="1.1"/>
<circle cx="382.6" cy="512.9" r="2.7" fill="url(#rg)" stroke="#4a0606" stroke-width="1.1"/>
<circle cx="406.5" cy="489.0" r="2.7" fill="url(#rg)" stroke="#4a0606" stroke-width="1.1"/>
<circle cx="460.7" cy="436.0" r="2.7" fill="url(#rg)" stroke="#4a0606" stroke-width="1.1"/>
<circle cx="455.4" cy="400.7" r="2.7" fill="url(#rg)" stroke="#4a0606" stroke-width="1.1"/>
<circle cx="342.2" cy="498.7" r="2.7" fill="url(#rg)" stroke="#4a0606" stroke-width="1.1"/>
<circle cx="298.2" cy="481.0" r="2.7" fill="url(#rg)" stroke="#4a0606" stroke-width="1.1"/>
<circle cx="356.1" cy="508.1" r="2.7" fill="url(#rg)" stroke="#4a0606" stroke-width="1.1"/>
<circle cx="315.3" cy="496.2" r="2.7" fill="url(#rg)" stroke="#4a0606" stroke-width="1.1"/>
<circle cx="329.9" cy="488.6" r="2.7" fill="url(#rg)" stroke="#4a0606" stroke-width="1.1"/>
<circle cx="370.3" cy="501.9" r="2.7" fill="url(#rg)" stroke="#4a0606" stroke-width="1.1"/>
<circle cx="367.4" cy="467.7" r="2.7" fill="url(#rg)" stroke="#4a0606" stroke-width="1.1"/>
<circle cx="350.6" cy="495.4" r="2.7" fill="url(#rg)" stroke="#4a0606" stroke-width="1.1"/>
<circle cx="475.2" cy="427.2" r="2.7" fill="url(#rg)" stroke="#4a0606" stroke-width="1.1"/>
<circle cx="281.2" cy="507.2" r="2.7" fill="url(#rg)" stroke="#4a0606" stroke-width="1.1"/>
<circle cx="308.1" cy="482.0" r="2.7" fill="url(#rg)" stroke="#4a0606" stroke-width="1.1"/>
<circle cx="428.2" cy="477.1" r="2.7" fill="url(#rg)" stroke="#4a0606" stroke-width="1.1"/>
<circle cx="284.4" cy="518.6" r="2.7" fill="url(#rg)" stroke="#4a0606" stroke-width="1.1"/>
<circle cx="418.0" cy="453.4" r="2.7" fill="url(#rg)" stroke="#4a0606" stroke-width="1.1"/>
<circle cx="460.6" cy="428.0" r="2.7" fill="url(#rg)" stroke="#4a0606" stroke-width="1.1"/>
<circle cx="418.7" cy="419.6" r="2.7" fill="url(#rg)" stroke="#4a0606" stroke-width="1.1"/>
<circle cx="361.8" cy="458.8" r="2.7" fill="url(#rg)" stroke="#4a0606" stroke-width="1.1"/>
<circle cx="400.8" cy="448.8" r="2.7" fill="url(#rg)" stroke="#4a0606" stroke-width="1.1"/>
<circle cx="444.7" cy="484.0" r="2.7" fill="url(#rg)" stroke="#4a0606" stroke-width="1.1"/>
<circle cx="463.4" cy="435.5" r="2.7" fill="url(#rg)" stroke="#4a0606" stroke-width="1.1"/>
<circle cx="454.4" cy="417.5" r="2.7" fill="url(#rg)" stroke="#4a0606" stroke-width="1.1"/>
<circle cx="402.7" cy="457.4" r="2.7" fill="url(#rg)" stroke="#4a0606" stroke-width="1.1"/>
<circle cx="413.5" cy="495.0" r="2.7" fill="url(#rg)" stroke="#4a0606" stroke-width="1.1"/>
<circle cx="347.6" cy="479.7" r="2.7" fill="url(#rg)" stroke="#4a0606" stroke-width="1.1"/>
<circle cx="383.3" cy="452.6" r="2.7" fill="url(#rg)" stroke="#4a0606" stroke-width="1.1"/>
<circle cx="381.1" cy="451.8" r="2.7" fill="url(#rg)" stroke="#4a0606" stroke-width="1.1"/>
<circle cx="308.8" cy="491.5" r="2.7" fill="url(#rg)" stroke="#4a0606" stroke-width="1.1"/>
<circle cx="439.3" cy="497.2" r="2.7" fill="url(#rg)" stroke="#4a0606" stroke-width="1.1"/>
<circle cx="435.1" cy="455.1" r="2.7" fill="url(#rg)" stroke="#4a0606" stroke-width="1.1"/>
<circle cx="312.5" cy="483.3" r="2.7" fill="url(#rg)" stroke="#4a0606" stroke-width="1.1"/>
<circle cx="444.2" cy="404.4" r="2.7" fill="url(#rg)" stroke="#4a0606" stroke-width="1.1"/>
<circle cx="412.0" cy="417.2" r="2.7" fill="url(#rg)" stroke="#4a0606" stroke-width="1.1"/>
<circle cx="394.4" cy="509.6" r="2.7" fill="url(#rg)" stroke="#4a0606" stroke-width="1.1"/>
<circle cx="355.0" cy="476.0" r="2.7" fill="url(#rg)" stroke="#4a0606" stroke-width="1.1"/>
<circle cx="448.4" cy="484.9" r="2.7" fill="url(#rg)" stroke="#4a0606" stroke-width="1.1"/>
<circle cx="361.3" cy="499.4" r="2.7" fill="url(#rg)" stroke="#4a0606" stroke-width="1.1"/>
<circle cx="431.1" cy="399.2" r="2.7" fill="url(#rg)" stroke="#4a0606" stroke-width="1.1"/>
<circle cx="421.0" cy="455.3" r="2.7" fill="url(#rg)" stroke="#4a0606" stroke-width="1.1"/>
<circle cx="416.7" cy="438.9" r="2.7" fill="url(#rg)" stroke="#4a0606" stroke-width="1.1"/>
<circle cx="445.3" cy="400.5" r="2.7" fill="url(#rg)" stroke="#4a0606" stroke-width="1.1"/>
<circle cx="467.0" cy="420.9" r="2.7" fill="url(#rg)" stroke="#4a0606" stroke-width="1.1"/>
<circle cx="442.3" cy="458.8" r="2.7" fill="url(#rg)" stroke="#4a0606" stroke-width="1.1"/>
<circle cx="338.9" cy="500.4" r="2.7" fill="url(#rg)" stroke="#4a0606" stroke-width="1.1"/>
<circle cx="352.5" cy="491.1" r="2.7" fill="url(#rg)" stroke="#4a0606" stroke-width="1.1"/>
<circle cx="435.4" cy="462.2" r="2.7" fill="url(#rg)" stroke="#4a0606" stroke-width="1.1"/>
<circle cx="314.9" cy="506.7" r="2.7" fill="url(#rg)" stroke="#4a0606" stroke-width="1.1"/>
<circle cx="409.3" cy="480.7" r="2.7" fill="url(#rg)" stroke="#4a0606" stroke-width="1.1"/>
<circle cx="308.4" cy="510.2" r="2.7" fill="url(#rg)" stroke="#4a0606" stroke-width="1.1"/>
<circle cx="362.3" cy="470.4" r="2.7" fill="url(#rg)" stroke="#4a0606" stroke-width="1.1"/>
<circle cx="436.5" cy="420.1" r="2.7" fill="url(#rg)" stroke="#4a0606" stroke-width="1.1"/>
<circle cx="350.6" cy="470.0" r="2.7" fill="url(#rg)" stroke="#4a0606" stroke-width="1.1"/>
<circle cx="367.3" cy="481.3" r="2.7" fill="url(#rg)" stroke="#4a0606" stroke-width="1.1"/>
<circle cx="347.0" cy="485.2" r="2.7" fill="url(#rg)" stroke="#4a0606" stroke-width="1.1"/>
<circle cx="370.6" cy="501.5" r="2.7" fill="url(#rg)" stroke="#4a0606" stroke-width="1.1"/>
<circle cx="316.4" cy="505.8" r="2.7" fill="url(#rg)" stroke="#4a0606" stroke-width="1.1"/>
<circle cx="347.7" cy="514.0" r="2.7" fill="url(#rg)" stroke="#4a0606" stroke-width="1.1"/>
<circle cx="383.8" cy="491.3" r="2.7" fill="url(#rg)" stroke="#4a0606" stroke-width="1.1"/>
<circle cx="388.7" cy="428.2" r="2.7" fill="url(#rg)" stroke="#4a0606" stroke-width="1.1"/>
<circle cx="315.2" cy="507.7" r="2.7" fill="url(#rg)" stroke="#4a0606" stroke-width="1.1"/>
<circle cx="293.7" cy="504.0" r="2.7" fill="url(#rg)" stroke="#4a0606" stroke-width="1.1"/>
<circle cx="325.6" cy="502.6" r="2.7" fill="url(#rg)" stroke="#4a0606" stroke-width="1.1"/>
<circle cx="388.2" cy="475.4" r="2.7" fill="url(#rg)" stroke="#4a0606" stroke-width="1.1"/>
<circle cx="355.4" cy="452.3" r="2.7" fill="url(#rg)" stroke="#4a0606" stroke-width="1.1"/>
<circle cx="395.0" cy="491.4" r="2.7" fill="url(#rg)" stroke="#4a0606" stroke-width="1.1"/>
<circle cx="390.3" cy="515.5" r="2.7" fill="url(#rg)" stroke="#4a0606" stroke-width="1.1"/>
<circle cx="370.3" cy="508.7" r="2.7" fill="url(#rg)" stroke="#4a0606" stroke-width="1.1"/>
<circle cx="327.7" cy="485.7" r="2.7" fill="url(#rg)" stroke="#4a0606" stroke-width="1.1"/>
<circle cx="431.5" cy="441.2" r="2.7" fill="url(#rg)" stroke="#4a0606" stroke-width="1.1"/>
<circle cx="418.6" cy="465.6" r="2.7" fill="url(#rg)" stroke="#4a0606" stroke-width="1.1"/>
<circle cx="434.7" cy="458.6" r="2.7" fill="url(#rg)" stroke="#4a0606" stroke-width="1.1"/>
<circle cx="386.0" cy="512.3" r="2.7" fill="url(#rg)" stroke="#4a0606" stroke-width="1.1"/>
<circle cx="328.6" cy="501.4" r="2.7" fill="url(#rg)" stroke="#4a0606" stroke-width="1.1"/>
<circle cx="433.5" cy="432.6" r="2.7" fill="url(#rg)" stroke="#4a0606" stroke-width="1.1"/>
<circle cx="297.9" cy="492.5" r="2.7" fill="url(#rg)" stroke="#4a0606" stroke-width="1.1"/>
<circle cx="346.5" cy="500.3" r="2.7" fill="url(#rg)" stroke="#4a0606" stroke-width="1.1"/>
<circle cx="328.2" cy="474.3" r="2.7" fill="url(#rg)" stroke="#4a0606" stroke-width="1.1"/>
<circle cx="303.3" cy="474.6" r="2.7" fill="url(#rg)" stroke="#4a0606" stroke-width="1.1"/>
<circle cx="388.3" cy="506.1" r="2.7" fill="url(#rg)" stroke="#4a0606" stroke-width="1.1"/>
<circle cx="376.9" cy="517.8" r="2.7" fill="url(#rg)" stroke="#4a0606" stroke-width="1.1"/>
<circle cx="313.7" cy="511.1" r="2.7" fill="url(#rg)" stroke="#4a0606" stroke-width="1.1"/>
<circle cx="379.9" cy="506.4" r="2.7" fill="url(#rg)" stroke="#4a0606" stroke-width="1.1"/>
<circle cx="447.5" cy="471.7" r="2.7" fill="url(#rg)" stroke="#4a0606" stroke-width="1.1"/>
<circle cx="397.0" cy="427.1" r="2.7" fill="url(#rg)" stroke="#4a0606" stroke-width="1.1"/>
<circle cx="409.8" cy="452.3" r="2.7" fill="url(#rg)" stroke="#4a0606" stroke-width="1.1"/>
<circle cx="417.6" cy="487.2" r="2.7" fill="url(#rg)" stroke="#4a0606" stroke-width="1.1"/>
<circle cx="353.2" cy="490.4" r="2.7" fill="url(#rg)" stroke="#4a0606" stroke-width="1.1"/>
<circle cx="361.2" cy="513.7" r="2.7" fill="url(#rg)" stroke="#4a0606" stroke-width="1.1"/>
<circle cx="351.1" cy="513.5" r="2.7" fill="url(#rg)" stroke="#4a0606" stroke-width="1.1"/>
<circle cx="439.1" cy="494.7" r="2.7" fill="url(#rg)" stroke="#4a0606" stroke-width="1.1"/>
<circle cx="353.4" cy="518.7" r="2.7" fill="url(#rg)" stroke="#4a0606" stroke-width="1.1"/>
<circle cx="457.9" cy="408.4" r="2.7" fill="url(#rg)" stroke="#4a0606" stroke-width="1.1"/>
<circle cx="365.7" cy="495.5" r="2.7" fill="url(#rg)" stroke="#4a0606" stroke-width="1.1"/>
<circle cx="304.3" cy="485.1" r="2.7" fill="url(#rg)" stroke="#4a0606" stroke-width="1.1"/>
<circle cx="426.1" cy="417.0" r="2.7" fill="url(#rg)" stroke="#4a0606" stroke-width="1.1"/>
<circle cx="334.6" cy="468.0" r="2.7" fill="url(#rg)" stroke="#4a0606" stroke-width="1.1"/>
<circle cx="439.2" cy="459.0" r="2.7" fill="url(#rg)" stroke="#4a0606" stroke-width="1.1"/>
<circle cx="379.3" cy="489.1" r="2.7" fill="url(#rg)" stroke="#4a0606" stroke-width="1.1"/>
<circle cx="415.9" cy="487.4" r="2.7" fill="url(#rg)" stroke="#4a0606" stroke-width="1.1"/>
<circle cx="435.5" cy="426.6" r="2.7" fill="url(#rg)" stroke="#4a0606" stroke-width="1.1"/>
<circle cx="380.6" cy="476.4" r="2.7" fill="url(#rg)" stroke="#4a0606" stroke-width="1.1"/>
<circle cx="372.5" cy="498.7" r="2.7" fill="url(#rg)" stroke="#4a0606" stroke-width="1.1"/>
<circle cx="374.6" cy="501.1" r="2.7" fill="url(#rg)" stroke="#4a0606" stroke-width="1.1"/>
<circle cx="401.8" cy="499.4" r="2.7" fill="url(#rg)" stroke="#4a0606" stroke-width="1.1"/>
<circle cx="436.7" cy="419.8" r="2.7" fill="url(#rg)" stroke="#4a0606" stroke-width="1.1"/>
<circle cx="349.4" cy="476.4" r="2.7" fill="url(#rg)" stroke="#4a0606" stroke-width="1.1"/>
<circle cx="385.9" cy="492.6" r="2.7" fill="url(#rg)" stroke="#4a0606" stroke-width="1.1"/>
<circle cx="320.4" cy="472.1" r="2.7" fill="url(#rg)" stroke="#4a0606" stroke-width="1.1"/>
<circle cx="323.9" cy="487.3" r="2.7" fill="url(#rg)" stroke="#4a0606" stroke-width="1.1"/>
<circle cx="372.3" cy="436.3" r="2.7" fill="url(#rg)" stroke="#4a0606" stroke-width="1.1"/>
<circle cx="389.1" cy="435.3" r="2.7" fill="url(#rg)" stroke="#4a0606" stroke-width="1.1"/>
<circle cx="340.7" cy="519.3" r="2.7" fill="url(#rg)" stroke="#4a0606" stroke-width="1.1"/>
<circle cx="363.3" cy="477.0" r="2.7" fill="url(#rg)" stroke="#4a0606" stroke-width="1.1"/>
<circle cx="421.2" cy="457.2" r="2.7" fill="url(#rg)" stroke="#4a0606" stroke-width="1.1"/>
<circle cx="386.1" cy="471.6" r="2.7" fill="url(#rg)" stroke="#4a0606" stroke-width="1.1"/>
<circle cx="373.2" cy="498.3" r="2.7" fill="url(#rg)" stroke="#4a0606" stroke-width="1.1"/>
<circle cx="364.9" cy="477.9" r="2.7" fill="url(#rg)" stroke="#4a0606" stroke-width="1.1"/>
<circle cx="432.1" cy="443.0" r="2.7" fill="url(#rg)" stroke="#4a0606" stroke-width="1.1"/>
<circle cx="397.2" cy="503.3" r="2.7" fill="url(#rg)" stroke="#4a0606" stroke-width="1.1"/>
<circle cx="329.1" cy="510.2" r="2.7" fill="url(#rg)" stroke="#4a0606" stroke-width="1.1"/>
<circle cx="365.6" cy="459.4" r="2.7" fill="url(#rg)" stroke="#4a0606" stroke-width="1.1"/>
<circle cx="289.4" cy="482.7" r="2.7" fill="url(#rg)" stroke="#4a0606" stroke-width="1.1"/>
<circle cx="405.0" cy="476.9" r="2.7" fill="url(#rg)" stroke="#4a0606" stroke-width="1.1"/>
<circle cx="453.3" cy="473.3" r="2.7" fill="url(#rg)" stroke="#4a0606" stroke-width="1.1"/>
<circle cx="322.0" cy="505.1" r="2.7" fill="url(#rg)" stroke="#4a0606" stroke-width="1.1"/>
<circle cx="401.5" cy="510.1" r="2.7" fill="url(#rg)" stroke="#4a0606" stroke-width="1.1"/>
<circle cx="313.7" cy="493.7" r="2.7" fill="url(#rg)" stroke="#4a0606" stroke-width="1.1"/>
<circle cx="375.6" cy="466.2" r="2.7" fill="url(#rg)" stroke="#4a0606" stroke-width="1.1"/>
<circle cx="469.5" cy="459.7" r="2.7" fill="url(#rg)" stroke="#4a0606" stroke-width="1.1"/>
<circle cx="330.6" cy="482.3" r="2.7" fill="url(#rg)" stroke="#4a0606" stroke-width="1.1"/>
<circle cx="408.5" cy="465.3" r="2.7" fill="url(#rg)" stroke="#4a0606" stroke-width="1.1"/>
<circle cx="395.3" cy="466.1" r="2.7" fill="url(#rg)" stroke="#4a0606" stroke-width="1.1"/>
<circle cx="410.6" cy="498.5" r="2.7" fill="url(#rg)" stroke="#4a0606" stroke-width="1.1"/>
<circle cx="422.4" cy="419.0" r="2.7" fill="url(#rg)" stroke="#4a0606" stroke-width="1.1"/>
<circle cx="346.2" cy="485.2" r="2.7" fill="url(#rg)" stroke="#4a0606" stroke-width="1.1"/>
<circle cx="358.4" cy="508.6" r="2.7" fill="url(#rg)" stroke="#4a0606" stroke-width="1.1"/>
<circle cx="427.5" cy="415.8" r="2.7" fill="url(#rg)" stroke="#4a0606" stroke-width="1.1"/>
<circle cx="391.2" cy="470.1" r="2.7" fill="url(#rg)" stroke="#4a0606" stroke-width="1.1"/>
<circle cx="297.9" cy="510.8" r="2.7" fill="url(#rg)" stroke="#4a0606" stroke-width="1.1"/>
<circle cx="434.4" cy="474.7" r="2.7" fill="url(#rg)" stroke="#4a0606" stroke-width="1.1"/>
<circle cx="392.2" cy="474.3" r="2.7" fill="url(#rg)" stroke="#4a0606" stroke-width="1.1"/>
<circle cx="349.3" cy="479.7" r="2.7" fill="url(#rg)" stroke="#4a0606" stroke-width="1.1"/>
<circle cx="431.3" cy="418.1" r="2.7" fill="url(#rg)" stroke="#4a0606" stroke-width="1.1"/>
<circle cx="369.7" cy="482.6" r="2.7" fill="url(#rg)" stroke="#4a0606" stroke-width="1.1"/>
<circle cx="370.8" cy="513.0" r="2.7" fill="url(#rg)" stroke="#4a0606" stroke-width="1.1"/>
<circle cx="443.6" cy="416.7" r="2.7" fill="url(#rg)" stroke="#4a0606" stroke-width="1.1"/>
<circle cx="364.8" cy="483.9" r="2.7" fill="url(#rg)" stroke="#4a0606" stroke-width="1.1"/>
<circle cx="324.9" cy="479.4" r="2.7" fill="url(#rg)" stroke="#4a0606" stroke-width="1.1"/>
<circle cx="369.4" cy="487.9" r="2.7" fill="url(#rg)" stroke="#4a0606" stroke-width="1.1"/>
<circle cx="397.1" cy="465.0" r="2.7" fill="url(#rg)" stroke="#4a0606" stroke-width="1.1"/>
<circle cx="422.1" cy="499.8" r="2.7" fill="url(#rg)" stroke="#4a0606" stroke-width="1.1"/>
<circle cx="358.2" cy="475.1" r="2.7" fill="url(#rg)" stroke="#4a0606" stroke-width="1.1"/>
<circle cx="343.6" cy="475.6" r="2.7" fill="url(#rg)" stroke="#4a0606" stroke-width="1.1"/>
<circle cx="367.5" cy="460.9" r="2.7" fill="url(#rg)" stroke="#4a0606" stroke-width="1.1"/>
<circle cx="304.8" cy="518.2" r="2.7" fill="url(#rg)" stroke="#4a0606" stroke-width="1.1"/>
<circle cx="390.4" cy="506.8" r="2.7" fill="url(#rg)" stroke="#4a0606" stroke-width="1.1"/>
<circle cx="394.4" cy="440.9" r="2.7" fill="url(#rg)" stroke="#4a0606" stroke-width="1.1"/>
<circle cx="337.0" cy="514.9" r="2.7" fill="url(#rg)" stroke="#4a0606" stroke-width="1.1"/>
<circle cx="434.9" cy="473.6" r="2.7" fill="url(#rg)" stroke="#4a0606" stroke-width="1.1"/>
<circle cx="449.7" cy="458.3" r="2.7" fill="url(#rg)" stroke="#4a0606" stroke-width="1.1"/>
<circle cx="379.1" cy="471.3" r="2.7" fill="url(#rg)" stroke="#4a0606" stroke-width="1.1"/>
<circle cx="372.8" cy="475.0" r="2.7" fill="url(#rg)" stroke="#4a0606" stroke-width="1.1"/>
<circle cx="468.2" cy="407.7" r="2.7" fill="url(#rg)" stroke="#4a0606" stroke-width="1.1"/>
<circle cx="321.1" cy="479.3" r="2.7" fill="url(#rg)" stroke="#4a0606" stroke-width="1.1"/>
<circle cx="458.1" cy="458.3" r="2.7" fill="url(#rg)" stroke="#4a0606" stroke-width="1.1"/>
<circle cx="414.0" cy="513.7" r="2.7" fill="url(#rg)" stroke="#4a0606" stroke-width="1.1"/>
<circle cx="331.8" cy="490.9" r="2.7" fill="url(#rg)" stroke="#4a0606" stroke-width="1.1"/>
<circle cx="419.6" cy="418.5" r="2.7" fill="url(#rg)" stroke="#4a0606" stroke-width="1.1"/>
<circle cx="461.7" cy="400.6" r="2.7" fill="url(#rg)" stroke="#4a0606" stroke-width="1.1"/>
<circle cx="327.7" cy="494.6" r="2.7" fill="url(#rg)" stroke="#4a0606" stroke-width="1.1"/>
<circle cx="317.0" cy="511.5" r="2.7" fill="url(#rg)" stroke="#4a0606" stroke-width="1.1"/>
<circle cx="326.5" cy="494.6" r="2.7" fill="url(#rg)" stroke="#4a0606" stroke-width="1.1"/>
<circle cx="428.2" cy="409.3" r="2.7" fill="url(#rg)" stroke="#4a0606" stroke-width="1.1"/>
<circle cx="380.7" cy="480.1" r="2.7" fill="url(#rg)" stroke="#4a0606" stroke-width="1.1"/>
<circle cx="330.0" cy="465.9" r="2.7" fill="url(#rg)" stroke="#4a0606" stroke-width="1.1"/>
<circle cx="406.5" cy="421.9" r="2.7" fill="url(#rg)" stroke="#4a0606" stroke-width="1.1"/>
<circle cx="430.6" cy="422.7" r="2.7" fill="url(#rg)" stroke="#4a0606" stroke-width="1.1"/>
<circle cx="326.2" cy="477.4" r="2.7" fill="url(#rg)" stroke="#4a0606" stroke-width="1.1"/>
<circle cx="408.7" cy="490.9" r="2.7" fill="url(#rg)" stroke="#4a0606" stroke-width="1.1"/>
<circle cx="453.3" cy="468.4" r="2.7" fill="url(#rg)" stroke="#4a0606" stroke-width="1.1"/>
<circle cx="397.5" cy="417.1" r="2.7" fill="url(#rg)" stroke="#4a0606" stroke-width="1.1"/>
<circle cx="463.2" cy="385.6" r="2.7" fill="url(#rg)" stroke="#4a0606" stroke-width="1.1"/>
<circle cx="438.5" cy="400.7" r="2.7" fill="url(#rg)" stroke="#4a0606" stroke-width="1.1"/>
<circle cx="368.8" cy="518.1" r="2.7" fill="url(#rg)" stroke="#4a0606" stroke-width="1.1"/>
<circle cx="418.5" cy="490.6" r="2.7" fill="url(#rg)" stroke="#4a0606" stroke-width="1.1"/>
<circle cx="299.9" cy="497.0" r="2.7" fill="url(#rg)" stroke="#4a0606" stroke-width="1.1"/>
<circle cx="370.5" cy="517.6" r="2.7" fill="url(#rg)" stroke="#4a0606" stroke-width="1.1"/>
<circle cx="313.6" cy="487.9" r="2.7" fill="url(#rg)" stroke="#4a0606" stroke-width="1.1"/>
<circle cx="433.5" cy="419.5" r="2.7" fill="url(#rg)" stroke="#4a0606" stroke-width="1.1"/>
<circle cx="318.6" cy="503.5" r="2.7" fill="url(#rg)" stroke="#4a0606" stroke-width="1.1"/>
<circle cx="328.6" cy="471.1" r="2.7" fill="url(#rg)" stroke="#4a0606" stroke-width="1.1"/>
<circle cx="411.0" cy="469.2" r="2.7" fill="url(#rg)" stroke="#4a0606" stroke-width="1.1"/>
<circle cx="435.7" cy="414.1" r="2.7" fill="url(#rg)" stroke="#4a0606" stroke-width="1.1"/>
<circle cx="354.5" cy="497.1" r="2.7" fill="url(#rg)" stroke="#4a0606" stroke-width="1.1"/>
<circle cx="388.3" cy="497.2" r="2.7" fill="url(#rg)" stroke="#4a0606" stroke-width="1.1"/>
<circle cx="445.4" cy="476.0" r="2.7" fill="url(#rg)" stroke="#4a0606" stroke-width="1.1"/>
<circle cx="300.6" cy="507.2" r="2.7" fill="url(#rg)" stroke="#4a0606" stroke-width="1.1"/>
<circle cx="410.7" cy="439.7" r="2.7" fill="url(#rg)" stroke="#4a0606" stroke-width="1.1"/>
<circle cx="429.6" cy="424.9" r="2.7" fill="url(#rg)" stroke="#4a0606" stroke-width="1.1"/>
<circle cx="413.9" cy="513.6" r="2.7" fill="url(#rg)" stroke="#4a0606" stroke-width="1.1"/>
<circle cx="387.8" cy="470.6" r="2.7" fill="url(#rg)" stroke="#4a0606" stroke-width="1.1"/>
<circle cx="389.6" cy="490.1" r="2.7" fill="url(#rg)" stroke="#4a0606" stroke-width="1.1"/>
<circle cx="426.0" cy="501.5" r="2.7" fill="url(#rg)" stroke="#4a0606" stroke-width="1.1"/>
<circle cx="397.9" cy="491.9" r="2.7" fill="url(#rg)" stroke="#4a0606" stroke-width="1.1"/>
<circle cx="380.0" cy="446.1" r="2.7" fill="url(#rg)" stroke="#4a0606" stroke-width="1.1"/>
<circle cx="415.9" cy="489.1" r="2.7" fill="url(#rg)" stroke="#4a0606" stroke-width="1.1"/>
<circle cx="338.2" cy="500.5" r="2.7" fill="url(#rg)" stroke="#4a0606" stroke-width="1.1"/>
<circle cx="401.4" cy="518.4" r="2.7" fill="url(#rg)" stroke="#4a0606" stroke-width="1.1"/>
<circle cx="358.7" cy="469.0" r="2.7" fill="url(#rg)" stroke="#4a0606" stroke-width="1.1"/>
<circle cx="366.5" cy="516.0" r="2.7" fill="url(#rg)" stroke="#4a0606" stroke-width="1.1"/>
<circle cx="480.8" cy="430.9" r="2.7" fill="url(#rg)" stroke="#4a0606" stroke-width="1.1"/>
<circle cx="476.6" cy="438.4" r="2.7" fill="url(#rg)" stroke="#4a0606" stroke-width="1.1"/>
<circle cx="484.6" cy="418.7" r="2.7" fill="url(#rg)" stroke="#4a0606" stroke-width="1.1"/>
<circle cx="491.8" cy="388.3" r="2.7" fill="url(#rg)" stroke="#4a0606" stroke-width="1.1"/>
<circle cx="469.9" cy="449.1" r="2.7" fill="url(#rg)" stroke="#4a0606" stroke-width="1.1"/>
<circle cx="498.3" cy="459.9" r="2.7" fill="url(#rg)" stroke="#4a0606" stroke-width="1.1"/>
<circle cx="482.1" cy="422.0" r="2.7" fill="url(#rg)" stroke="#4a0606" stroke-width="1.1"/>
<circle cx="488.9" cy="448.2" r="2.7" fill="url(#rg)" stroke="#4a0606" stroke-width="1.1"/>
<circle cx="506.7" cy="406.3" r="2.7" fill="url(#rg)" stroke="#4a0606" stroke-width="1.1"/>
<circle cx="494.5" cy="398.1" r="2.7" fill="url(#rg)" stroke="#4a0606" stroke-width="1.1"/>
<circle cx="483.0" cy="419.8" r="2.7" fill="url(#rg)" stroke="#4a0606" stroke-width="1.1"/>
<circle cx="507.1" cy="407.1" r="2.7" fill="url(#rg)" stroke="#4a0606" stroke-width="1.1"/>
<circle cx="499.8" cy="422.1" r="2.7" fill="url(#rg)" stroke="#4a0606" stroke-width="1.1"/>
<circle cx="499.7" cy="449.3" r="2.7" fill="url(#rg)" stroke="#4a0606" stroke-width="1.1"/>
<circle cx="492.2" cy="407.6" r="2.7" fill="url(#rg)" stroke="#4a0606" stroke-width="1.1"/>
<circle cx="484.3" cy="405.3" r="2.7" fill="url(#rg)" stroke="#4a0606" stroke-width="1.1"/>
<circle cx="480.0" cy="381.6" r="2.7" fill="url(#rg)" stroke="#4a0606" stroke-width="1.1"/>
<circle cx="480.7" cy="387.9" r="2.7" fill="url(#rg)" stroke="#4a0606" stroke-width="1.1"/>
<circle cx="508.9" cy="456.0" r="2.7" fill="url(#rg)" stroke="#4a0606" stroke-width="1.1"/>
<circle cx="517.1" cy="420.4" r="2.7" fill="url(#rg)" stroke="#4a0606" stroke-width="1.1"/>
<circle cx="517.2" cy="414.9" r="2.7" fill="url(#rg)" stroke="#4a0606" stroke-width="1.1"/>
<circle cx="507.8" cy="429.8" r="2.7" fill="url(#rg)" stroke="#4a0606" stroke-width="1.1"/>
<circle cx="477.4" cy="389.5" r="2.7" fill="url(#rg)" stroke="#4a0606" stroke-width="1.1"/>
<circle cx="501.9" cy="389.4" r="2.7" fill="url(#rg)" stroke="#4a0606" stroke-width="1.1"/>
<circle cx="502.6" cy="436.0" r="2.7" fill="url(#rg)" stroke="#4a0606" stroke-width="1.1"/>
<circle cx="490.0" cy="408.1" r="2.7" fill="url(#rg)" stroke="#4a0606" stroke-width="1.1"/>
<circle cx="480.2" cy="395.9" r="2.7" fill="url(#rg)" stroke="#4a0606" stroke-width="1.1"/>
<circle cx="499.1" cy="437.9" r="2.7" fill="url(#rg)" stroke="#4a0606" stroke-width="1.1"/>
<circle cx="502.8" cy="429.9" r="2.7" fill="url(#rg)" stroke="#4a0606" stroke-width="1.1"/>
<circle cx="493.7" cy="411.7" r="2.7" fill="url(#rg)" stroke="#4a0606" stroke-width="1.1"/>
<circle cx="510.6" cy="457.0" r="2.7" fill="url(#rg)" stroke="#4a0606" stroke-width="1.1"/>
<circle cx="478.5" cy="411.1" r="2.7" fill="url(#rg)" stroke="#4a0606" stroke-width="1.1"/>
<circle cx="509.0" cy="446.3" r="2.7" fill="url(#rg)" stroke="#4a0606" stroke-width="1.1"/>
<circle cx="507.2" cy="410.6" r="2.7" fill="url(#rg)" stroke="#4a0606" stroke-width="1.1"/>
<circle cx="512.9" cy="411.7" r="2.7" fill="url(#rg)" stroke="#4a0606" stroke-width="1.1"/>
<circle cx="514.3" cy="434.2" r="2.7" fill="url(#rg)" stroke="#4a0606" stroke-width="1.1"/>
<circle cx="484.6" cy="451.5" r="2.7" fill="url(#rg)" stroke="#4a0606" stroke-width="1.1"/>
<circle cx="503.8" cy="403.4" r="2.7" fill="url(#rg)" stroke="#4a0606" stroke-width="1.1"/>
<circle cx="502.1" cy="389.1" r="2.7" fill="url(#rg)" stroke="#4a0606" stroke-width="1.1"/>
<circle cx="489.5" cy="461.7" r="2.7" fill="url(#rg)" stroke="#4a0606" stroke-width="1.1"/>
<circle cx="507.4" cy="387.1" r="2.7" fill="url(#rg)" stroke="#4a0606" stroke-width="1.1"/>
<circle cx="508.2" cy="432.1" r="2.7" fill="url(#rg)" stroke="#4a0606" stroke-width="1.1"/>
<circle cx="476.2" cy="447.1" r="2.7" fill="url(#rg)" stroke="#4a0606" stroke-width="1.1"/>
<circle cx="471.1" cy="455.5" r="2.7" fill="url(#rg)" stroke="#4a0606" stroke-width="1.1"/>
<circle cx="481.8" cy="440.4" r="2.7" fill="url(#rg)" stroke="#4a0606" stroke-width="1.1"/>
<circle cx="495.2" cy="445.1" r="2.7" fill="url(#rg)" stroke="#4a0606" stroke-width="1.1"/>
<circle cx="489.9" cy="406.8" r="2.7" fill="url(#rg)" stroke="#4a0606" stroke-width="1.1"/>
<circle cx="498.2" cy="445.0" r="2.7" fill="url(#rg)" stroke="#4a0606" stroke-width="1.1"/>
<circle cx="515.5" cy="411.9" r="2.7" fill="url(#rg)" stroke="#4a0606" stroke-width="1.1"/>
<circle cx="478.6" cy="446.7" r="2.7" fill="url(#rg)" stroke="#4a0606" stroke-width="1.1"/>
<circle cx="467.9" cy="462.7" r="2.7" fill="url(#rg)" stroke="#4a0606" stroke-width="1.1"/>
<circle cx="474.8" cy="435.0" r="2.7" fill="url(#rg)" stroke="#4a0606" stroke-width="1.1"/>
<circle cx="497.2" cy="380.5" r="2.7" fill="url(#rg)" stroke="#4a0606" stroke-width="1.1"/>
<circle cx="467.0" cy="419.3" r="2.7" fill="url(#rg)" stroke="#4a0606" stroke-width="1.1"/>
<circle cx="507.5" cy="407.1" r="2.7" fill="url(#rg)" stroke="#4a0606" stroke-width="1.1"/>
<circle cx="478.1" cy="450.2" r="2.7" fill="url(#rg)" stroke="#4a0606" stroke-width="1.1"/>
<circle cx="498.1" cy="413.2" r="2.7" fill="url(#rg)" stroke="#4a0606" stroke-width="1.1"/>
<circle cx="493.2" cy="453.0" r="2.7" fill="url(#rg)" stroke="#4a0606" stroke-width="1.1"/>
<circle cx="474.8" cy="451.7" r="2.7" fill="url(#rg)" stroke="#4a0606" stroke-width="1.1"/>
<circle cx="502.0" cy="431.7" r="2.7" fill="url(#rg)" stroke="#4a0606" stroke-width="1.1"/>
<circle cx="496.4" cy="383.8" r="2.7" fill="url(#rg)" stroke="#4a0606" stroke-width="1.1"/>
<circle cx="503.8" cy="446.1" r="2.7" fill="url(#rg)" stroke="#4a0606" stroke-width="1.1"/>
<circle cx="502.0" cy="427.2" r="2.7" fill="url(#rg)" stroke="#4a0606" stroke-width="1.1"/>
<circle cx="474.4" cy="419.0" r="2.7" fill="url(#rg)" stroke="#4a0606" stroke-width="1.1"/>
<circle cx="488.3" cy="422.2" r="2.7" fill="url(#rg)" stroke="#4a0606" stroke-width="1.1"/>
<circle cx="472.8" cy="460.7" r="2.7" fill="url(#rg)" stroke="#4a0606" stroke-width="1.1"/>
<circle cx="488.6" cy="426.3" r="2.7" fill="url(#rg)" stroke="#4a0606" stroke-width="1.1"/>
<circle cx="479.1" cy="392.9" r="2.7" fill="url(#rg)" stroke="#4a0606" stroke-width="1.1"/>
<circle cx="496.5" cy="457.9" r="2.7" fill="url(#rg)" stroke="#4a0606" stroke-width="1.1"/>
<circle cx="495.3" cy="450.6" r="2.7" fill="url(#rg)" stroke="#4a0606" stroke-width="1.1"/>
<circle cx="501.8" cy="403.7" r="2.7" fill="url(#rg)" stroke="#4a0606" stroke-width="1.1"/>
<circle cx="471.5" cy="429.6" r="2.7" fill="url(#rg)" stroke="#4a0606" stroke-width="1.1"/>
<circle cx="473.6" cy="446.8" r="2.7" fill="url(#rg)" stroke="#4a0606" stroke-width="1.1"/>
<circle cx="504.2" cy="440.1" r="2.7" fill="url(#rg)" stroke="#4a0606" stroke-width="1.1"/>
<circle cx="489.4" cy="465.9" r="2.7" fill="url(#rg)" stroke="#4a0606" stroke-width="1.1"/>
<circle cx="473.7" cy="411.9" r="2.7" fill="url(#rg)" stroke="#4a0606" stroke-width="1.1"/>
<circle cx="480.6" cy="392.4" r="2.7" fill="url(#rg)" stroke="#4a0606" stroke-width="1.1"/>
<circle cx="518.3" cy="398.8" r="2.7" fill="url(#rg)" stroke="#4a0606" stroke-width="1.1"/>

  <!-- frontier -->
  <path d="M406.2,259 L408.1,410 C408.500,422 409,430 410,435 C411,440 412,442 413.500,444.500 C415.500,448 417.500,451 420.500,454 C424,457 428,458.800 432.500,460.200 C437,461.800 441,462.800 446,463.800 C452,464.800 457,465.300 463,465.600 L652.500,466" fill="none" stroke="#f4f41c" stroke-width="4.3" stroke-linejoin="round"/>

  <!-- labels -->
  <text x="271.700" y="255.500" font-size="9.6" fill="#9db1cf" stroke="#9db1cf" stroke-width="0.2" textLength="31.500" lengthAdjust="spacingAndGlyphs">15.1%</text>
  <text x="683.600" y="532" font-size="9.4" fill="#9db1cf" stroke="#9db1cf" stroke-width="0.2" textLength="36.500" lengthAdjust="spacingAndGlyphs">36.1%</text>
  <text x="137" y="275.500" font-size="10.2" fill="#222" textLength="20" lengthAdjust="spacingAndGlyphs">.7 %</text>
  <text x="636" y="275.800" font-size="10.5" font-weight="bold" fill="#cc1a1f" textLength="37" lengthAdjust="spacingAndGlyphs">63.2 %</text>
  <text x="138" y="684" font-size="10.5" font-weight="bold" fill="#1f8a2c" textLength="37" lengthAdjust="spacingAndGlyphs">14.4 %</text>
  <text x="636" y="684" font-size="10.5" fill="#222" textLength="32" lengthAdjust="spacingAndGlyphs">21.7 %</text>
  <rect x="653" y="465" width="32" height="18" fill="#dee2fb"/>
  <text x="653.700" y="478" font-size="12.5" font-weight="bold" fill="#111" textLength="30" lengthAdjust="spacingAndGlyphs">70 %</text>

  <!-- peach tooltip -->
  <rect x="277.500" y="523.800" width="79.500" height="27.200" fill="#f4ddb2"/>
  <text x="278.400" y="534.300" font-size="10" fill="#4a3b22" textLength="41" lengthAdjust="spacingAndGlyphs">7/1/2013 .</text>
  <text x="278.400" y="545.800" font-size="10" fill="#4a3b22" textLength="35.5" lengthAdjust="spacingAndGlyphs">3500000</text>
  <!-- connectors -->
  <g stroke="#34527a" stroke-width="1.7" fill="none" stroke-linecap="round">
    <path d="M206,424.500 L252.500,504"/>
    <path d="M276,257.500 L332,323"/>
    <path d="M601,418 L649,463"/>
    <path d="M325,542.500 L364,576.500"/>
    <path d="M610,587.500 L678.500,524.500"/>
    <path d="M179,678 L270,645"/>
  </g>

  <!-- callouts -->
  <g fill="#4a7cba" stroke="#3b679e" stroke-width="1.3">
    <rect x="143.500" y="353" width="112.500" height="70.500"/>
    <rect x="283" y="325" width="113" height="70.500"/>
    <rect x="534" y="346" width="114" height="70.500"/>
    <rect x="366.500" y="569.300" width="99" height="21.500"/>
    <rect x="506" y="548" width="100" height="71"/>
    <rect x="283" y="618" width="155" height="56.500"/>
  </g>
  <g font-size="9.900" font-weight="bold" fill="#fff" text-anchor="middle" letter-spacing="0.2">
    <text x="199.200" y="364">Points Represent</text>
    <text x="199.200" y="378.200">Cost/Schedule</text>
    <text x="199.200" y="392">Result Pair&#160; from</text>
    <text x="199.200" y="405.700">each Iteration of</text>
    <text x="199.200" y="419.600">the Simulation</text>

    <text x="339" y="350.200">Vertical Bar X-Axis</text>
    <text x="339" y="364.200">indicates Schedule</text>
    <text x="339" y="378.300">Confidence Level</text>

    <text x="590.500" y="356.900">Frontier Line</text>
    <text x="590.500" y="371.100">Identifies</text>
    <text x="590.500" y="385.200">Cost/Schedule</text>
    <text x="590.500" y="399">Surface that meets</text>
    <text x="590.500" y="412.700">target JCL</text>

    <text x="415.500" y="583.600">Point Estimate</text>

    <text x="555.500" y="566.200">Horizontal Bar</text>
    <text x="555.500" y="580">Y-Axis indicates</text>
    <text x="555.500" y="594">Cost Confidence</text>
    <text x="555.500" y="607.800">Level</text>

    <text x="359.500" y="628.900">Lower Left Quadrant</text>
    <text x="359.500" y="642.900">Identifies Iterations</text>
    <text x="359.500" y="656.900">Satisfying Cost &amp; Schedule</text>
    <text x="359.500" y="670.800">Targets&#160; = The JCL</text>
  </g>

  <!-- tooltips -->
  <rect x="124.300" y="524.600" width="62.500" height="13.800" fill="#ffffc4" stroke="#77773c" stroke-width="1"/>
  <text x="125.800" y="535.600" font-size="10.5" fill="#2c2c14" textLength="56.500" lengthAdjust="spacingAndGlyphs">3,500,000.0</text>
  <rect x="279.500" y="681.500" width="61.500" height="13" fill="#ffffc4" stroke="#77773c" stroke-width="1"/>
  <text x="282.500" y="692.200" font-size="10.5" fill="#2c2c14" textLength="54.5" lengthAdjust="spacingAndGlyphs">01 Jul 2013</text>
</svg>

<!-- bullets -->
<div class="abs dot" style="top:226px"></div>
<div class="abs b1" style="top:226px">Each dot in the scatter</div>
<div class="abs b1" style="top:253px">plot represents a result</div>
<div class="abs b1" style="top:280px">from the simulation</div>
<div class="abs b1" style="top:307px">calculation (Cost,</div>
<div class="abs b1" style="top:334px">Schedule).</div>
<div class="abs dot" style="top:367px"></div>
<div class="abs b1" style="top:367px">Scatter plot shows</div>
<div class="abs b1" style="top:394px">iterations of cost and</div>
<div class="abs b1" style="top:422px">schedule risk analysis.</div>
<div class="abs b2" style="top:453px;left:753px">–</div>
<div class="abs b2" style="top:453px">Cross-hairs can be</div>
<div class="abs b2" style="top:477px">moved to a date and cost</div>
<div class="abs b2" style="top:501px">to obtain their joint</div>
<div class="abs b2" style="top:525px">confidence.</div>
<div class="abs dot" style="top:554px"></div>
<div class="abs b1" style="top:554px">Analysis results valid</div>
<div class="abs b1" style="top:581px">only for plan the inputs</div>
<div class="abs b1" style="top:608px">are based on, and</div>
<div class="abs b1" style="top:635px">represents a snapshot</div>
<div class="abs b1" style="top:662px">in time.</div>

<div class="abs" style="left:987.3px;top:741px;font-size:16px;line-height:20px;">0</div>
<svg class="abs" style="left:974.6px;top:740.8px" width="14" height="20" viewBox="975 740 14 20"><path d="M984.200,755.700 V744.200 C983.300,746 982,747.200 980,748" fill="none" stroke="#000" stroke-width="1.45"/></svg>
</body>
</html>
